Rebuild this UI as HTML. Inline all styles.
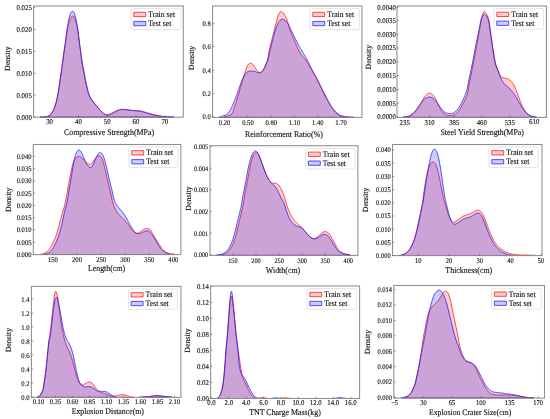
<!DOCTYPE html>
<html lang="en"><head><meta charset="utf-8"><title>Density plots</title>
<style>html,body{margin:0;padding:0;background:#fff}body{width:550px;height:419px;overflow:hidden}svg{display:block}text{font-family:"Liberation Serif",serif;fill:#111;stroke:#111;stroke-width:0.12px;text-rendering:geometricPrecision}.t{font-size:6.8px}.l{font-size:7.9px}.g{font-size:7.7px}.r{fill:rgba(255,0,0,0.2);stroke:rgba(255,10,10,0.72);stroke-width:1;stroke-linejoin:round}.b{fill:rgba(0,0,255,0.2);stroke:rgba(20,20,255,0.72);stroke-width:1;stroke-linejoin:round}</style></head><body>
<svg width="550" height="419" viewBox="0 0 550 419">
<rect width="550" height="419" fill="#fff"/>
<g>
<clipPath id="c0"><rect x="33.6" y="6.0" width="149.7" height="111.7"/></clipPath>
<g clip-path="url(#c0)">
<path class="r" d="M40.0 117.2 L40.0 117.2 L40.5 117.2 L41.0 117.2 L41.5 117.2 L42.0 117.1 L42.5 117.1 L43.0 117.1 L43.5 117.1 L44.0 117.0 L44.5 117.0 L45.0 117.0 L45.5 116.9 L46.0 116.9 L46.5 116.7 L47.0 116.6 L47.5 116.4 L48.0 116.1 L48.5 115.9 L49.0 115.6 L49.5 115.4 L50.0 115.0 L50.5 114.6 L51.0 114.0 L51.5 113.3 L52.0 112.6 L52.5 111.9 L53.0 111.1 L53.5 110.1 L54.0 108.9 L54.5 107.5 L55.0 106.1 L55.5 104.6 L56.0 102.8 L56.5 100.8 L57.0 98.6 L57.5 96.2 L58.0 93.6 L58.5 90.7 L59.0 87.6 L59.5 84.2 L60.0 80.6 L60.5 77.1 L61.0 73.7 L61.5 70.2 L62.0 66.6 L62.5 62.9 L63.0 59.3 L63.5 55.6 L64.0 51.9 L64.5 48.4 L65.0 45.1 L65.5 41.8 L66.0 38.4 L66.5 34.5 L67.0 31.1 L67.5 28.5 L68.0 26.4 L68.5 24.5 L69.0 22.8 L69.5 21.2 L70.0 19.7 L70.5 18.4 L71.0 17.3 L71.5 16.6 L72.0 16.2 L72.5 16.0 L73.0 16.1 L73.5 16.5 L74.0 17.2 L74.5 18.2 L75.0 19.4 L75.5 20.8 L76.0 22.5 L76.5 24.3 L77.0 26.4 L77.5 28.9 L78.0 31.7 L78.5 35.2 L79.0 39.0 L79.5 42.8 L80.0 46.7 L80.5 50.6 L81.0 54.4 L81.5 58.0 L82.0 61.2 L82.5 64.1 L83.0 66.7 L83.5 69.3 L84.0 71.9 L84.5 74.4 L85.0 77.1 L85.5 79.7 L86.0 82.2 L86.5 84.4 L87.0 86.6 L87.5 88.6 L88.0 90.6 L88.5 92.4 L89.0 93.9 L89.5 95.2 L90.0 96.4 L90.5 97.4 L91.0 98.4 L91.5 99.2 L92.0 100.1 L92.5 100.8 L93.0 101.5 L93.5 102.1 L94.0 102.7 L94.5 103.4 L95.0 104.0 L95.5 104.6 L96.0 105.3 L96.5 105.9 L97.0 106.5 L97.5 107.1 L98.0 107.7 L98.5 108.3 L99.0 108.9 L99.5 109.4 L100.0 110.0 L100.5 110.5 L101.0 111.1 L101.5 111.6 L102.0 112.1 L102.5 112.6 L103.0 113.0 L103.5 113.4 L104.0 113.8 L104.5 114.1 L105.0 114.4 L105.5 114.6 L106.0 114.7 L106.5 114.8 L107.0 114.8 L107.5 114.8 L108.0 114.7 L108.5 114.6 L109.0 114.4 L109.5 114.2 L110.0 114.0 L110.5 113.8 L111.0 113.5 L111.5 113.3 L112.0 113.0 L112.5 112.7 L113.0 112.4 L113.5 112.2 L114.0 111.9 L114.5 111.6 L115.0 111.4 L115.5 111.2 L116.0 110.9 L116.5 110.7 L117.0 110.5 L117.5 110.3 L118.0 110.1 L118.5 109.9 L119.0 109.8 L119.5 109.7 L120.0 109.6 L120.5 109.5 L121.0 109.5 L121.5 109.4 L122.0 109.4 L122.5 109.4 L123.0 109.4 L123.5 109.4 L124.0 109.5 L124.5 109.6 L125.0 109.6 L125.5 109.7 L126.0 109.7 L126.5 109.8 L127.0 109.9 L127.5 109.9 L128.0 110.0 L128.5 110.1 L129.0 110.1 L129.5 110.2 L130.0 110.2 L130.5 110.3 L131.0 110.3 L131.5 110.4 L132.0 110.4 L132.5 110.5 L133.0 110.5 L133.5 110.6 L134.0 110.6 L134.5 110.6 L135.0 110.7 L135.5 110.7 L136.0 110.7 L136.5 110.7 L137.0 110.7 L137.5 110.7 L138.0 110.7 L138.5 110.7 L139.0 110.7 L139.5 110.8 L140.0 110.8 L140.5 110.9 L141.0 110.9 L141.5 111.0 L142.0 111.2 L142.5 111.3 L143.0 111.4 L143.5 111.6 L144.0 111.7 L144.5 111.9 L145.0 112.0 L145.5 112.1 L146.0 112.3 L146.5 112.5 L147.0 112.6 L147.5 112.8 L148.0 113.0 L148.5 113.1 L149.0 113.3 L149.5 113.5 L150.0 113.6 L150.5 113.7 L151.0 113.9 L151.5 114.0 L152.0 114.2 L152.5 114.3 L153.0 114.4 L153.5 114.6 L154.0 114.7 L154.5 114.8 L155.0 115.0 L155.5 115.1 L156.0 115.2 L156.5 115.3 L157.0 115.4 L157.5 115.5 L158.0 115.6 L158.5 115.7 L159.0 115.8 L159.5 115.9 L160.0 116.0 L160.5 116.1 L161.0 116.2 L161.5 116.3 L162.0 116.4 L162.5 116.4 L163.0 116.5 L163.5 116.6 L164.0 116.6 L164.5 116.6 L165.0 116.7 L165.5 116.7 L166.0 116.8 L166.5 116.8 L167.0 116.8 L167.5 116.9 L168.0 116.9 L168.5 116.9 L169.0 116.9 L169.5 117.0 L170.0 117.0 L170.5 117.0 L171.0 117.1 L171.5 117.1 L172.0 117.1 L172.5 117.1 L173.0 117.2 L173.5 117.2 L174.0 117.2 L174.0 117.2 Z"/>
<path class="b" d="M40.0 117.2 L40.0 117.2 L40.5 117.2 L41.0 117.2 L41.5 117.2 L42.0 117.1 L42.5 117.1 L43.0 117.1 L43.5 117.1 L44.0 117.0 L44.5 117.0 L45.0 117.0 L45.5 116.9 L46.0 116.9 L46.5 116.7 L47.0 116.6 L47.5 116.4 L48.0 116.1 L48.5 115.9 L49.0 115.6 L49.5 115.4 L50.0 115.0 L50.5 114.6 L51.0 114.0 L51.5 113.3 L52.0 112.6 L52.5 111.9 L53.0 111.1 L53.5 110.1 L54.0 108.9 L54.5 107.5 L55.0 106.1 L55.5 104.6 L56.0 102.8 L56.5 100.8 L57.0 98.6 L57.5 96.2 L58.0 93.6 L58.5 90.7 L59.0 87.6 L59.5 84.2 L60.0 80.6 L60.5 77.1 L61.0 73.7 L61.5 70.2 L62.0 66.6 L62.5 62.9 L63.0 59.3 L63.5 55.6 L64.0 51.9 L64.5 48.4 L65.0 45.0 L65.5 41.6 L66.0 38.0 L66.5 33.8 L67.0 29.9 L67.5 26.6 L68.0 23.6 L68.5 21.0 L69.0 18.5 L69.5 16.3 L70.0 14.7 L70.5 13.6 L71.0 12.6 L71.5 11.9 L72.0 11.5 L72.5 11.2 L73.0 11.4 L73.5 11.8 L74.0 12.6 L74.5 13.9 L75.0 15.4 L75.5 17.1 L76.0 19.2 L76.5 21.5 L77.0 24.1 L77.5 27.2 L78.0 30.7 L78.5 35.1 L79.0 39.5 L79.5 43.5 L80.0 47.4 L80.5 51.4 L81.0 55.5 L81.5 59.3 L82.0 62.5 L82.5 65.4 L83.0 68.1 L83.5 70.7 L84.0 73.4 L84.5 76.2 L85.0 79.0 L85.5 81.6 L86.0 84.0 L86.5 86.2 L87.0 88.3 L87.5 90.3 L88.0 92.1 L88.5 93.7 L89.0 95.0 L89.5 96.1 L90.0 97.1 L90.5 98.1 L91.0 99.0 L91.5 99.8 L92.0 100.5 L92.5 101.2 L93.0 101.8 L93.5 102.4 L94.0 103.0 L94.5 103.6 L95.0 104.2 L95.5 104.8 L96.0 105.3 L96.5 105.9 L97.0 106.5 L97.5 107.1 L98.0 107.7 L98.5 108.3 L99.0 108.9 L99.5 109.4 L100.0 110.0 L100.5 110.5 L101.0 111.1 L101.5 111.6 L102.0 112.1 L102.5 112.6 L103.0 113.0 L103.5 113.4 L104.0 113.9 L104.5 114.2 L105.0 114.6 L105.5 114.8 L106.0 115.0 L106.5 115.1 L107.0 115.2 L107.5 115.2 L108.0 115.1 L108.5 115.1 L109.0 114.9 L109.5 114.8 L110.0 114.6 L110.5 114.4 L111.0 114.2 L111.5 113.9 L112.0 113.7 L112.5 113.4 L113.0 113.1 L113.5 112.8 L114.0 112.5 L114.5 112.3 L115.0 112.0 L115.5 111.8 L116.0 111.5 L116.5 111.3 L117.0 111.0 L117.5 110.8 L118.0 110.6 L118.5 110.4 L119.0 110.2 L119.5 110.1 L120.0 109.9 L120.5 109.8 L121.0 109.6 L121.5 109.5 L122.0 109.5 L122.5 109.4 L123.0 109.4 L123.5 109.4 L124.0 109.4 L124.5 109.5 L125.0 109.5 L125.5 109.5 L126.0 109.6 L126.5 109.6 L127.0 109.7 L127.5 109.7 L128.0 109.8 L128.5 109.9 L129.0 109.9 L129.5 110.0 L130.0 110.1 L130.5 110.1 L131.0 110.2 L131.5 110.3 L132.0 110.3 L132.5 110.4 L133.0 110.5 L133.5 110.5 L134.0 110.6 L134.5 110.7 L135.0 110.7 L135.5 110.8 L136.0 110.8 L136.5 110.8 L137.0 110.9 L137.5 110.9 L138.0 111.0 L138.5 111.0 L139.0 111.1 L139.5 111.1 L140.0 111.2 L140.5 111.3 L141.0 111.4 L141.5 111.5 L142.0 111.7 L142.5 111.8 L143.0 112.0 L143.5 112.1 L144.0 112.3 L144.5 112.5 L145.0 112.6 L145.5 112.7 L146.0 112.9 L146.5 113.0 L147.0 113.2 L147.5 113.3 L148.0 113.5 L148.5 113.6 L149.0 113.7 L149.5 113.9 L150.0 114.0 L150.5 114.1 L151.0 114.3 L151.5 114.4 L152.0 114.5 L152.5 114.6 L153.0 114.8 L153.5 114.9 L154.0 115.0 L154.5 115.1 L155.0 115.2 L155.5 115.3 L156.0 115.4 L156.5 115.5 L157.0 115.6 L157.5 115.7 L158.0 115.8 L158.5 115.9 L159.0 115.9 L159.5 116.0 L160.0 116.1 L160.5 116.2 L161.0 116.3 L161.5 116.3 L162.0 116.4 L162.5 116.4 L163.0 116.5 L163.5 116.6 L164.0 116.6 L164.5 116.6 L165.0 116.7 L165.5 116.7 L166.0 116.8 L166.5 116.8 L167.0 116.8 L167.5 116.9 L168.0 116.9 L168.5 116.9 L169.0 116.9 L169.5 117.0 L170.0 117.0 L170.5 117.0 L171.0 117.1 L171.5 117.1 L172.0 117.1 L172.5 117.1 L173.0 117.2 L173.5 117.2 L174.0 117.2 L174.0 117.2 Z"/>
</g>
<rect x="33.6" y="6.0" width="149.7" height="111.2" fill="none" stroke="#8e8e8e" stroke-width="1.05"/>
<path d="M49.6 117.2 v-1.8 M78.4 117.2 v-1.8 M107.2 117.2 v-1.8 M136.0 117.2 v-1.8 M164.8 117.2 v-1.8 M33.6 117.2 h1.8 M33.6 95.2 h1.8 M33.6 73.3 h1.8 M33.6 51.4 h1.8 M33.6 29.4 h1.8 M33.6 7.6 h1.8" stroke="#555" stroke-width="0.6" fill="none"/>
<text class="t" transform="translate(49.6 123.7) scale(1 1.09)" text-anchor="middle">30</text>
<text class="t" transform="translate(78.4 123.7) scale(1 1.09)" text-anchor="middle">40</text>
<text class="t" transform="translate(107.2 123.7) scale(1 1.09)" text-anchor="middle">50</text>
<text class="t" transform="translate(136.0 123.7) scale(1 1.09)" text-anchor="middle">60</text>
<text class="t" transform="translate(164.8 123.7) scale(1 1.09)" text-anchor="middle">70</text>
<text class="t" transform="translate(31.8 119.6) scale(1 1.09)" text-anchor="end">0.000</text>
<text class="t" transform="translate(31.8 97.6) scale(1 1.09)" text-anchor="end">0.005</text>
<text class="t" transform="translate(31.8 75.7) scale(1 1.09)" text-anchor="end">0.010</text>
<text class="t" transform="translate(31.8 53.8) scale(1 1.09)" text-anchor="end">0.015</text>
<text class="t" transform="translate(31.8 31.8) scale(1 1.09)" text-anchor="end">0.020</text>
<text class="t" transform="translate(31.8 10.0) scale(1 1.09)" text-anchor="end">0.025</text>
<text class="l" transform="translate(109.0 134.6) scale(1 1.09)" text-anchor="middle">Compressive Strength(MPa)</text>
<text class="l" transform="translate(10.4 58.7) rotate(-90)" text-anchor="middle">Density</text>
<rect x="131.0" y="8.4" width="50.0" height="21.2" rx="1.5" fill="rgba(255,255,255,0.8)" stroke="#d9d9d9" stroke-width="0.7"/>
<rect class="r" x="133.8" y="12.3" width="11.9" height="4.3"/>
<text class="g" transform="translate(148.2 16.8) scale(1 1.09)">Train set</text>
<rect class="b" x="133.8" y="21.4" width="11.9" height="4.3"/>
<text class="g" transform="translate(148.2 26.0) scale(1 1.09)">Test set</text>
</g>
<g>
<clipPath id="c1"><rect x="212.6" y="6.0" width="149.3" height="111.9"/></clipPath>
<g clip-path="url(#c1)">
<path class="r" d="M224.0 117.4 L224.0 117.0 L224.5 116.9 L225.0 116.8 L225.5 116.7 L226.0 116.6 L226.5 116.4 L227.0 116.3 L227.5 116.1 L228.0 115.9 L228.5 115.7 L229.0 115.5 L229.5 115.3 L230.0 115.1 L230.5 114.9 L231.0 114.6 L231.5 114.2 L232.0 113.8 L232.5 112.9 L233.0 111.6 L233.5 110.1 L234.0 108.6 L234.5 107.2 L235.0 105.7 L235.5 104.3 L236.0 102.8 L236.5 101.3 L237.0 99.7 L237.5 98.0 L238.0 96.2 L238.5 94.5 L239.0 92.7 L239.5 90.9 L240.0 89.2 L240.5 87.4 L241.0 85.7 L241.5 84.0 L242.0 82.2 L242.5 80.5 L243.0 78.8 L243.5 77.1 L244.0 75.5 L244.5 73.9 L245.0 72.3 L245.5 70.7 L246.0 69.2 L246.5 67.9 L247.0 66.8 L247.5 65.8 L248.0 64.9 L248.5 64.3 L249.0 63.9 L249.5 63.5 L250.0 63.3 L250.5 63.2 L251.0 63.3 L251.5 63.5 L252.0 63.8 L252.5 64.2 L253.0 64.7 L253.5 65.3 L254.0 66.0 L254.5 66.7 L255.0 67.5 L255.5 68.3 L256.0 69.0 L256.5 69.7 L257.0 70.3 L257.5 70.9 L258.0 71.4 L258.5 71.8 L259.0 72.2 L259.5 72.4 L260.0 72.5 L260.5 72.3 L261.0 72.0 L261.5 71.7 L262.0 71.3 L262.5 70.7 L263.0 70.0 L263.5 69.3 L264.0 68.4 L264.5 67.4 L265.0 66.2 L265.5 64.9 L266.0 63.7 L266.5 62.6 L267.0 61.4 L267.5 60.0 L268.0 57.7 L268.5 54.6 L269.0 51.6 L269.5 49.1 L270.0 46.9 L270.5 44.9 L271.0 42.9 L271.5 40.9 L272.0 39.0 L272.5 37.1 L273.0 35.2 L273.5 33.2 L274.0 31.2 L274.5 29.1 L275.0 27.1 L275.5 25.2 L276.0 23.2 L276.5 21.4 L277.0 19.5 L277.5 17.6 L278.0 16.0 L278.5 14.7 L279.0 13.8 L279.5 12.9 L280.0 12.2 L280.5 11.7 L281.0 11.4 L281.5 11.4 L282.0 11.7 L282.5 12.1 L283.0 12.7 L283.5 13.3 L284.0 14.0 L284.5 14.7 L285.0 15.6 L285.5 16.6 L286.0 17.6 L286.5 18.8 L287.0 20.0 L287.5 21.4 L288.0 23.1 L288.5 24.9 L289.0 26.7 L289.5 28.5 L290.0 30.0 L290.5 31.4 L291.0 32.6 L291.5 33.9 L292.0 35.1 L292.5 36.3 L293.0 37.5 L293.5 38.6 L294.0 39.7 L294.5 40.9 L295.0 42.0 L295.5 43.2 L296.0 44.3 L296.5 45.5 L297.0 46.7 L297.5 47.9 L298.0 49.0 L298.5 50.1 L299.0 51.2 L299.5 52.1 L300.0 53.0 L300.5 53.8 L301.0 54.5 L301.5 55.1 L302.0 55.7 L302.5 56.3 L303.0 56.8 L303.5 57.4 L304.0 57.9 L304.5 58.4 L305.0 59.0 L305.5 59.6 L306.0 60.3 L306.5 61.0 L307.0 61.8 L307.5 62.6 L308.0 63.5 L308.5 64.3 L309.0 65.2 L309.5 66.1 L310.0 67.0 L310.5 68.0 L311.0 68.9 L311.5 69.8 L312.0 70.7 L312.5 71.6 L313.0 72.5 L313.5 73.4 L314.0 74.2 L314.5 75.1 L315.0 75.9 L315.5 76.8 L316.0 77.7 L316.5 78.7 L317.0 79.6 L317.5 80.6 L318.0 81.6 L318.5 82.6 L319.0 83.6 L319.5 84.6 L320.0 85.6 L320.5 86.6 L321.0 87.6 L321.5 88.6 L322.0 89.6 L322.5 90.7 L323.0 91.7 L323.5 92.7 L324.0 93.8 L324.5 94.8 L325.0 95.8 L325.5 96.7 L326.0 97.7 L326.5 98.6 L327.0 99.6 L327.5 100.5 L328.0 101.4 L328.5 102.3 L329.0 103.1 L329.5 104.0 L330.0 104.8 L330.5 105.6 L331.0 106.4 L331.5 107.1 L332.0 107.8 L332.5 108.5 L333.0 109.2 L333.5 109.9 L334.0 110.6 L334.5 111.2 L335.0 111.8 L335.5 112.3 L336.0 112.7 L336.5 113.1 L337.0 113.5 L337.5 113.9 L338.0 114.3 L338.5 114.6 L339.0 114.9 L339.5 115.2 L340.0 115.5 L340.5 115.7 L341.0 115.9 L341.5 116.0 L342.0 116.2 L342.5 116.3 L343.0 116.4 L343.5 116.5 L344.0 116.6 L344.5 116.7 L345.0 116.8 L345.5 116.9 L346.0 117.0 L346.5 117.0 L347.0 117.0 L347.5 117.1 L348.0 117.1 L348.5 117.1 L349.0 117.2 L349.5 117.2 L350.0 117.2 L350.5 117.3 L351.0 117.3 L351.5 117.3 L352.0 117.3 L352.5 117.3 L353.0 117.3 L353.0 117.4 Z"/>
<path class="b" d="M219.0 117.4 L219.0 117.0 L219.5 116.9 L220.0 116.8 L220.5 116.7 L221.0 116.6 L221.5 116.4 L222.0 116.3 L222.5 116.2 L223.0 116.0 L223.5 115.8 L224.0 115.6 L224.5 115.4 L225.0 115.2 L225.5 115.0 L226.0 114.7 L226.5 114.5 L227.0 114.1 L227.5 113.8 L228.0 113.3 L228.5 112.7 L229.0 112.0 L229.5 111.2 L230.0 110.4 L230.5 109.6 L231.0 108.7 L231.5 107.7 L232.0 106.5 L232.5 105.4 L233.0 104.2 L233.5 103.0 L234.0 101.8 L234.5 100.6 L235.0 99.4 L235.5 98.2 L236.0 96.9 L236.5 95.6 L237.0 94.2 L237.5 92.7 L238.0 91.3 L238.5 89.8 L239.0 88.4 L239.5 87.0 L240.0 85.6 L240.5 84.2 L241.0 82.9 L241.5 81.7 L242.0 80.4 L242.5 79.2 L243.0 78.1 L243.5 77.0 L244.0 76.1 L244.5 75.3 L245.0 74.5 L245.5 73.8 L246.0 73.2 L246.5 72.7 L247.0 72.3 L247.5 71.9 L248.0 71.6 L248.5 71.4 L249.0 71.2 L249.5 71.1 L250.0 71.1 L250.5 71.0 L251.0 71.0 L251.5 71.0 L252.0 71.0 L252.5 71.1 L253.0 71.1 L253.5 71.2 L254.0 71.2 L254.5 71.3 L255.0 71.5 L255.5 71.7 L256.0 71.9 L256.5 72.1 L257.0 72.2 L257.5 72.4 L258.0 72.5 L258.5 72.7 L259.0 72.8 L259.5 72.9 L260.0 72.9 L260.5 72.7 L261.0 72.4 L261.5 72.0 L262.0 71.6 L262.5 71.1 L263.0 70.5 L263.5 69.7 L264.0 68.8 L264.5 67.9 L265.0 66.9 L265.5 65.7 L266.0 64.4 L266.5 63.2 L267.0 62.1 L267.5 60.9 L268.0 59.3 L268.5 57.3 L269.0 55.1 L269.5 52.8 L270.0 50.7 L270.5 48.6 L271.0 46.5 L271.5 44.4 L272.0 42.4 L272.5 40.4 L273.0 38.5 L273.5 36.6 L274.0 34.8 L274.5 33.1 L275.0 31.3 L275.5 29.7 L276.0 28.1 L276.5 26.7 L277.0 25.4 L277.5 24.4 L278.0 23.3 L278.5 22.4 L279.0 21.5 L279.5 20.9 L280.0 20.4 L280.5 20.0 L281.0 19.7 L281.5 19.4 L282.0 19.2 L282.5 19.2 L283.0 19.3 L283.5 19.5 L284.0 19.7 L284.5 20.1 L285.0 20.4 L285.5 20.8 L286.0 21.3 L286.5 21.8 L287.0 22.5 L287.5 23.2 L288.0 24.0 L288.5 24.8 L289.0 25.8 L289.5 26.8 L290.0 27.8 L290.5 28.9 L291.0 29.9 L291.5 31.0 L292.0 32.0 L292.5 33.0 L293.0 34.0 L293.5 35.0 L294.0 36.1 L294.5 37.1 L295.0 38.1 L295.5 39.1 L296.0 40.1 L296.5 41.0 L297.0 42.0 L297.5 42.9 L298.0 43.9 L298.5 44.8 L299.0 45.7 L299.5 46.6 L300.0 47.5 L300.5 48.4 L301.0 49.2 L301.5 50.1 L302.0 51.0 L302.5 51.9 L303.0 52.7 L303.5 53.6 L304.0 54.4 L304.5 55.3 L305.0 56.1 L305.5 57.0 L306.0 57.9 L306.5 58.7 L307.0 59.6 L307.5 60.5 L308.0 61.5 L308.5 62.4 L309.0 63.4 L309.5 64.4 L310.0 65.4 L310.5 66.5 L311.0 67.5 L311.5 68.5 L312.0 69.5 L312.5 70.5 L313.0 71.5 L313.5 72.5 L314.0 73.4 L314.5 74.3 L315.0 75.2 L315.5 76.1 L316.0 77.0 L316.5 77.9 L317.0 78.9 L317.5 79.9 L318.0 80.8 L318.5 81.8 L319.0 82.8 L319.5 83.8 L320.0 84.8 L320.5 85.8 L321.0 86.8 L321.5 87.8 L322.0 88.8 L322.5 89.8 L323.0 90.9 L323.5 91.9 L324.0 92.9 L324.5 94.0 L325.0 95.0 L325.5 96.0 L326.0 96.9 L326.5 97.9 L327.0 98.8 L327.5 99.7 L328.0 100.7 L328.5 101.6 L329.0 102.4 L329.5 103.3 L330.0 104.2 L330.5 105.0 L331.0 105.8 L331.5 106.5 L332.0 107.2 L332.5 108.0 L333.0 108.7 L333.5 109.4 L334.0 110.1 L334.5 110.7 L335.0 111.3 L335.5 111.9 L336.0 112.4 L336.5 112.8 L337.0 113.2 L337.5 113.6 L338.0 114.0 L338.5 114.3 L339.0 114.7 L339.5 115.0 L340.0 115.3 L340.5 115.5 L341.0 115.7 L341.5 115.9 L342.0 116.1 L342.5 116.2 L343.0 116.3 L343.5 116.4 L344.0 116.5 L344.5 116.6 L345.0 116.7 L345.5 116.8 L346.0 116.9 L346.5 117.0 L347.0 117.0 L347.5 117.0 L348.0 117.1 L348.5 117.1 L349.0 117.1 L349.5 117.2 L350.0 117.2 L350.5 117.2 L351.0 117.3 L351.5 117.3 L352.0 117.3 L352.5 117.3 L353.0 117.3 L353.5 117.3 L354.0 117.3 L354.0 117.4 Z"/>
</g>
<rect x="212.6" y="6.0" width="149.3" height="111.4" fill="none" stroke="#8e8e8e" stroke-width="1.05"/>
<path d="M224.6 117.4 v-1.8 M247.9 117.4 v-1.8 M271.2 117.4 v-1.8 M294.5 117.4 v-1.8 M317.8 117.4 v-1.8 M341.1 117.4 v-1.8 M212.6 116.8 h1.8 M212.6 93.5 h1.8 M212.6 70.2 h1.8 M212.6 46.8 h1.8 M212.6 23.6 h1.8" stroke="#555" stroke-width="0.6" fill="none"/>
<text class="t" style="font-size:6.6px" transform="translate(224.6 125.4) scale(1 1.09)" text-anchor="middle">0.20</text>
<text class="t" style="font-size:6.6px" transform="translate(247.9 125.4) scale(1 1.09)" text-anchor="middle">0.50</text>
<text class="t" style="font-size:6.6px" transform="translate(271.2 125.4) scale(1 1.09)" text-anchor="middle">0.80</text>
<text class="t" style="font-size:6.6px" transform="translate(294.5 125.4) scale(1 1.09)" text-anchor="middle">1.10</text>
<text class="t" style="font-size:6.6px" transform="translate(317.8 125.4) scale(1 1.09)" text-anchor="middle">1.40</text>
<text class="t" style="font-size:6.6px" transform="translate(341.1 125.4) scale(1 1.09)" text-anchor="middle">1.70</text>
<text class="t" style="font-size:6.6px" transform="translate(210.8 119.2) scale(1 1.09)" text-anchor="end">0.0</text>
<text class="t" style="font-size:6.6px" transform="translate(210.8 95.9) scale(1 1.09)" text-anchor="end">0.2</text>
<text class="t" style="font-size:6.6px" transform="translate(210.8 72.6) scale(1 1.09)" text-anchor="end">0.4</text>
<text class="t" style="font-size:6.6px" transform="translate(210.8 49.2) scale(1 1.09)" text-anchor="end">0.6</text>
<text class="t" style="font-size:6.6px" transform="translate(210.8 26.0) scale(1 1.09)" text-anchor="end">0.8</text>
<text class="l" transform="translate(284.0 136.8) scale(1 1.09)" text-anchor="middle">Reinforcement Ratio(%)</text>
<text class="l" transform="translate(193.5 58.0) rotate(-90)" text-anchor="middle">Density</text>
<rect x="310.0" y="8.4" width="49.4" height="21.2" rx="1.5" fill="rgba(255,255,255,0.8)" stroke="#d9d9d9" stroke-width="0.7"/>
<rect class="r" x="312.8" y="12.3" width="11.9" height="4.3"/>
<text class="g" transform="translate(327.2 16.8) scale(1 1.09)">Train set</text>
<rect class="b" x="312.8" y="21.4" width="11.9" height="4.3"/>
<text class="g" transform="translate(327.2 26.0) scale(1 1.09)">Test set</text>
</g>
<g>
<clipPath id="c2"><rect x="397.0" y="6.0" width="149.4" height="111.9"/></clipPath>
<g clip-path="url(#c2)">
<path class="r" d="M403.4 117.4 L403.4 117.2 L403.9 117.2 L404.4 117.2 L404.9 117.1 L405.4 117.1 L405.9 117.0 L406.4 116.9 L406.9 116.9 L407.4 116.8 L407.9 116.7 L408.4 116.5 L408.9 116.4 L409.4 116.3 L409.9 116.1 L410.4 115.8 L410.9 115.6 L411.4 115.3 L411.9 115.0 L412.4 114.7 L412.9 114.3 L413.4 113.9 L413.9 113.4 L414.4 112.9 L414.9 112.3 L415.4 111.7 L415.9 111.2 L416.4 110.5 L416.9 109.9 L417.4 109.2 L417.9 108.4 L418.4 107.7 L418.9 106.9 L419.4 106.1 L419.9 105.2 L420.4 104.3 L420.9 103.3 L421.4 102.4 L421.9 101.5 L422.4 100.6 L422.9 99.6 L423.4 98.7 L423.9 97.8 L424.4 97.0 L424.9 96.3 L425.4 95.7 L425.9 95.2 L426.4 94.7 L426.9 94.3 L427.4 93.9 L427.9 93.7 L428.4 93.4 L428.9 93.3 L429.4 93.1 L429.9 93.1 L430.4 93.2 L430.9 93.4 L431.4 93.7 L431.9 94.0 L432.4 94.4 L432.9 94.9 L433.4 95.5 L433.9 96.2 L434.4 96.9 L434.9 97.7 L435.4 98.6 L435.9 99.5 L436.4 100.5 L436.9 101.6 L437.4 102.6 L437.9 103.6 L438.4 104.7 L438.9 105.7 L439.4 106.8 L439.9 107.8 L440.4 108.8 L440.9 109.7 L441.4 110.5 L441.9 111.3 L442.4 112.0 L442.9 112.7 L443.4 113.2 L443.9 113.6 L444.4 114.0 L444.9 114.3 L445.4 114.6 L445.9 114.8 L446.4 115.1 L446.9 115.3 L447.4 115.4 L447.9 115.5 L448.4 115.6 L448.9 115.6 L449.4 115.6 L449.9 115.6 L450.4 115.6 L450.9 115.6 L451.4 115.5 L451.9 115.5 L452.4 115.4 L452.9 115.2 L453.4 115.1 L453.9 114.9 L454.4 114.6 L454.9 114.4 L455.4 114.1 L455.9 113.8 L456.4 113.4 L456.9 113.0 L457.4 112.5 L457.9 111.9 L458.4 111.3 L458.9 110.7 L459.4 110.0 L459.9 109.3 L460.4 108.5 L460.9 107.7 L461.4 106.8 L461.9 106.0 L462.4 105.1 L462.9 104.1 L463.4 103.1 L463.9 102.1 L464.4 101.0 L464.9 100.0 L465.4 99.0 L465.9 98.1 L466.4 96.9 L466.9 95.6 L467.4 93.8 L467.9 91.5 L468.4 88.7 L468.9 85.8 L469.4 83.0 L469.9 80.5 L470.4 78.0 L470.9 75.5 L471.4 73.0 L471.9 70.5 L472.4 68.0 L472.9 65.6 L473.4 63.1 L473.9 60.6 L474.4 58.0 L474.9 55.4 L475.4 52.7 L475.9 50.0 L476.4 47.3 L476.9 44.5 L477.4 41.8 L477.9 39.0 L478.4 36.2 L478.9 33.3 L479.4 30.6 L479.9 27.7 L480.4 24.7 L480.9 21.8 L481.4 19.3 L481.9 17.3 L482.4 15.5 L482.9 13.8 L483.4 12.6 L483.9 11.7 L484.4 11.4 L484.9 11.6 L485.4 12.1 L485.9 12.9 L486.4 13.8 L486.9 14.7 L487.4 15.7 L487.9 17.0 L488.4 18.5 L488.9 20.4 L489.4 23.2 L489.9 26.6 L490.4 30.4 L490.9 34.0 L491.4 37.5 L491.9 41.1 L492.4 44.7 L492.9 48.1 L493.4 51.2 L493.9 54.3 L494.4 57.3 L494.9 60.0 L495.4 62.4 L495.9 64.3 L496.4 66.0 L496.9 67.5 L497.4 68.9 L497.9 70.1 L498.4 71.3 L498.9 72.4 L499.4 73.6 L499.9 74.8 L500.4 75.8 L500.9 76.4 L501.4 76.8 L501.9 77.1 L502.4 77.4 L502.9 77.6 L503.4 77.8 L503.9 78.0 L504.4 78.1 L504.9 78.2 L505.4 78.3 L505.9 78.4 L506.4 78.5 L506.9 78.6 L507.4 78.7 L507.9 78.9 L508.4 79.2 L508.9 79.4 L509.4 79.7 L509.9 80.1 L510.4 80.4 L510.9 80.8 L511.4 81.4 L511.9 82.0 L512.4 82.7 L512.9 83.5 L513.4 84.4 L513.9 85.3 L514.4 86.3 L514.9 87.3 L515.4 88.4 L515.9 89.7 L516.4 91.0 L516.9 92.3 L517.4 93.6 L517.9 95.0 L518.4 96.2 L518.9 97.5 L519.4 98.8 L519.9 100.2 L520.4 101.5 L520.9 102.8 L521.4 104.1 L521.9 105.2 L522.4 106.3 L522.9 107.3 L523.4 108.2 L523.9 109.1 L524.4 109.9 L524.9 110.7 L525.4 111.3 L525.9 112.0 L526.4 112.5 L526.9 113.0 L527.4 113.5 L527.9 113.9 L528.4 114.3 L528.9 114.8 L529.4 115.1 L529.9 115.5 L530.4 115.7 L530.9 116.0 L531.4 116.1 L531.9 116.3 L532.4 116.5 L532.9 116.7 L533.4 116.8 L533.9 116.9 L534.4 117.0 L534.9 117.1 L535.4 117.2 L535.9 117.2 L536.0 117.2 L536.0 117.4 Z"/>
<path class="b" d="M402.8 117.4 L402.8 117.2 L403.3 117.2 L403.8 117.2 L404.3 117.1 L404.8 117.0 L405.3 117.0 L405.8 116.9 L406.3 116.7 L406.8 116.6 L407.3 116.5 L407.8 116.4 L408.3 116.2 L408.8 116.0 L409.3 115.8 L409.8 115.5 L410.3 115.2 L410.8 114.9 L411.3 114.5 L411.8 114.2 L412.3 113.8 L412.8 113.4 L413.3 112.9 L413.8 112.4 L414.3 111.9 L414.8 111.3 L415.3 110.8 L415.8 110.2 L416.3 109.5 L416.8 108.9 L417.3 108.2 L417.8 107.6 L418.3 106.9 L418.8 106.2 L419.3 105.5 L419.8 104.8 L420.3 104.1 L420.8 103.3 L421.3 102.7 L421.8 102.0 L422.3 101.3 L422.8 100.7 L423.3 100.1 L423.8 99.5 L424.3 99.1 L424.8 98.7 L425.3 98.4 L425.8 98.1 L426.3 97.9 L426.8 97.7 L427.3 97.5 L427.8 97.4 L428.3 97.2 L428.8 97.1 L429.3 97.0 L429.8 97.0 L430.3 97.0 L430.8 97.2 L431.3 97.4 L431.8 97.6 L432.3 97.8 L432.8 98.1 L433.3 98.5 L433.8 98.9 L434.3 99.4 L434.8 99.9 L435.3 100.4 L435.8 101.0 L436.3 101.7 L436.8 102.4 L437.3 103.1 L437.8 103.8 L438.3 104.4 L438.8 105.1 L439.3 105.8 L439.8 106.6 L440.3 107.3 L440.8 107.9 L441.3 108.6 L441.8 109.1 L442.3 109.7 L442.8 110.3 L443.3 110.8 L443.8 111.3 L444.3 111.7 L444.8 112.1 L445.3 112.4 L445.8 112.6 L446.3 112.9 L446.8 113.1 L447.3 113.3 L447.8 113.4 L448.3 113.6 L448.8 113.7 L449.3 113.7 L449.8 113.7 L450.3 113.7 L450.8 113.6 L451.3 113.5 L451.8 113.4 L452.3 113.3 L452.8 113.2 L453.3 113.0 L453.8 112.7 L454.3 112.4 L454.8 112.0 L455.3 111.6 L455.8 111.2 L456.3 110.8 L456.8 110.3 L457.3 109.7 L457.8 109.0 L458.3 108.3 L458.8 107.6 L459.3 106.9 L459.8 106.1 L460.3 105.2 L460.8 104.3 L461.3 103.3 L461.8 102.3 L462.3 101.3 L462.8 100.3 L463.3 99.2 L463.8 98.0 L464.3 96.8 L464.8 95.7 L465.3 94.5 L465.8 93.2 L466.3 91.8 L466.8 90.2 L467.3 88.2 L467.8 85.6 L468.3 82.7 L468.8 80.0 L469.3 77.7 L469.8 75.6 L470.3 73.4 L470.8 71.0 L471.3 68.6 L471.8 66.1 L472.3 63.6 L472.8 61.0 L473.3 58.4 L473.8 55.8 L474.3 53.0 L474.8 50.3 L475.3 47.6 L475.8 45.0 L476.3 42.5 L476.8 40.2 L477.3 37.8 L477.8 35.6 L478.3 33.3 L478.8 31.0 L479.3 28.5 L479.8 25.7 L480.3 23.1 L480.8 20.7 L481.3 19.0 L481.8 17.5 L482.3 16.3 L482.8 15.4 L483.3 14.9 L483.8 14.5 L484.3 14.4 L484.8 14.5 L485.3 14.9 L485.8 15.4 L486.3 15.9 L486.8 16.5 L487.3 17.3 L487.8 18.4 L488.3 19.9 L488.8 21.7 L489.3 24.6 L489.8 28.2 L490.3 31.9 L490.8 35.4 L491.3 38.9 L491.8 42.5 L492.3 46.0 L492.8 49.4 L493.3 52.5 L493.8 55.7 L494.3 58.8 L494.8 61.4 L495.3 63.6 L495.8 65.3 L496.3 66.7 L496.8 68.0 L497.3 69.2 L497.8 70.5 L498.3 71.9 L498.8 73.2 L499.3 74.6 L499.8 75.9 L500.3 77.1 L500.8 78.1 L501.3 79.1 L501.8 80.0 L502.3 80.9 L502.8 81.7 L503.3 82.4 L503.8 83.1 L504.3 83.8 L504.8 84.3 L505.3 84.8 L505.8 85.3 L506.3 85.7 L506.8 86.1 L507.3 86.5 L507.8 86.9 L508.3 87.4 L508.8 87.8 L509.3 88.3 L509.8 88.8 L510.3 89.4 L510.8 89.9 L511.3 90.5 L511.8 91.0 L512.3 91.6 L512.8 92.2 L513.3 92.9 L513.8 93.5 L514.3 94.2 L514.8 94.9 L515.3 95.7 L515.8 96.5 L516.3 97.4 L516.8 98.3 L517.3 99.2 L517.8 100.1 L518.3 101.0 L518.8 101.8 L519.3 102.7 L519.8 103.6 L520.3 104.5 L520.8 105.4 L521.3 106.2 L521.8 107.1 L522.3 107.9 L522.8 108.6 L523.3 109.3 L523.8 110.0 L524.3 110.7 L524.8 111.3 L525.3 111.9 L525.8 112.5 L526.3 112.9 L526.8 113.4 L527.3 113.8 L527.8 114.1 L528.3 114.5 L528.8 114.8 L529.3 115.2 L529.8 115.5 L530.3 115.7 L530.8 116.0 L531.3 116.1 L531.8 116.3 L532.3 116.4 L532.8 116.6 L533.3 116.7 L533.8 116.8 L534.3 116.9 L534.8 117.0 L535.3 117.1 L535.8 117.2 L536.3 117.2 L536.8 117.2 L537.0 117.2 L537.0 117.4 Z"/>
</g>
<rect x="397.0" y="6.0" width="149.4" height="111.4" fill="none" stroke="#8e8e8e" stroke-width="1.05"/>
<path d="M404.7 117.4 v-1.8 M429.6 117.4 v-1.8 M454.3 117.4 v-1.8 M481.8 117.4 v-1.8 M509.8 117.4 v-1.8 M534.2 117.4 v-1.8 M397.0 117.0 h1.8 M397.0 103.2 h1.8 M397.0 89.4 h1.8 M397.0 75.6 h1.8 M397.0 61.8 h1.8 M397.0 48.0 h1.8 M397.0 34.2 h1.8 M397.0 20.4 h1.8 M397.0 7.2 h1.8" stroke="#555" stroke-width="0.6" fill="none"/>
<text class="t" transform="translate(404.7 124.7) scale(1 1.09)" text-anchor="middle">235</text>
<text class="t" transform="translate(429.6 124.7) scale(1 1.09)" text-anchor="middle">310</text>
<text class="t" transform="translate(454.3 124.7) scale(1 1.09)" text-anchor="middle">385</text>
<text class="t" transform="translate(481.8 124.7) scale(1 1.09)" text-anchor="middle">460</text>
<text class="t" transform="translate(509.8 124.7) scale(1 1.09)" text-anchor="middle">535</text>
<text class="t" transform="translate(534.2 123.8) scale(1 1.09)" text-anchor="middle">610</text>
<text class="t" transform="translate(395.9 119.4) scale(1 1.09)" text-anchor="end">0.0000</text>
<text class="t" transform="translate(395.9 105.6) scale(1 1.09)" text-anchor="end">0.0005</text>
<text class="t" transform="translate(395.9 91.8) scale(1 1.09)" text-anchor="end">0.0010</text>
<text class="t" transform="translate(395.9 78.0) scale(1 1.09)" text-anchor="end">0.0015</text>
<text class="t" transform="translate(395.9 64.2) scale(1 1.09)" text-anchor="end">0.0020</text>
<text class="t" transform="translate(395.9 50.4) scale(1 1.09)" text-anchor="end">0.0025</text>
<text class="t" transform="translate(395.9 36.6) scale(1 1.09)" text-anchor="end">0.0030</text>
<text class="t" transform="translate(395.9 22.8) scale(1 1.09)" text-anchor="end">0.0035</text>
<text class="t" transform="translate(395.9 9.6) scale(1 1.09)" text-anchor="end">0.0040</text>
<text class="l" transform="translate(482.2 135.1) scale(1 1.09)" text-anchor="middle">Steel Yield Strength(MPa)</text>
<text class="l" transform="translate(371.3 57.2) rotate(-90)" text-anchor="middle">Density</text>
<rect x="494.0" y="8.4" width="49.6" height="20.8" rx="1.5" fill="rgba(255,255,255,0.8)" stroke="#d9d9d9" stroke-width="0.7"/>
<rect class="r" x="496.8" y="12.2" width="11.9" height="4.3"/>
<text class="g" transform="translate(511.2 16.7) scale(1 1.09)">Train set</text>
<rect class="b" x="496.8" y="21.1" width="11.9" height="4.3"/>
<text class="g" transform="translate(511.2 25.7) scale(1 1.09)">Test set</text>
</g>
<g>
<clipPath id="c3"><rect x="33.3" y="144.5" width="147.6" height="110.6"/></clipPath>
<g clip-path="url(#c3)">
<path class="r" d="M39.7 254.6 L39.7 254.4 L40.2 254.4 L40.7 254.3 L41.2 254.2 L41.7 254.1 L42.2 254.0 L42.7 253.8 L43.2 253.6 L43.7 253.5 L44.2 253.3 L44.7 253.1 L45.2 252.8 L45.7 252.5 L46.2 252.2 L46.7 251.8 L47.2 251.4 L47.7 251.0 L48.2 250.5 L48.7 250.0 L49.2 249.4 L49.7 248.7 L50.2 247.9 L50.7 247.2 L51.2 246.4 L51.7 245.5 L52.2 244.6 L52.7 243.5 L53.2 242.4 L53.7 241.3 L54.2 240.2 L54.7 239.0 L55.2 237.8 L55.7 236.5 L56.2 235.2 L56.7 233.7 L57.2 232.0 L57.7 230.2 L58.2 228.4 L58.7 226.5 L59.2 224.7 L59.7 222.9 L60.2 221.0 L60.7 219.2 L61.2 217.4 L61.7 215.6 L62.2 213.9 L62.7 212.1 L63.2 210.4 L63.7 208.8 L64.2 207.2 L64.7 205.4 L65.2 203.2 L65.7 200.5 L66.2 197.8 L66.7 195.0 L67.2 192.2 L67.7 189.5 L68.2 186.7 L68.7 184.0 L69.2 181.3 L69.7 178.7 L70.2 176.0 L70.7 173.4 L71.2 171.0 L71.7 168.7 L72.2 166.4 L72.7 164.4 L73.2 162.8 L73.7 161.5 L74.2 160.4 L74.7 159.4 L75.2 158.8 L75.7 158.2 L76.2 157.7 L76.7 157.2 L77.2 156.8 L77.7 156.6 L78.2 156.5 L78.7 156.4 L79.2 156.4 L79.7 156.5 L80.2 156.7 L80.7 157.0 L81.2 157.4 L81.7 157.8 L82.2 158.2 L82.7 158.7 L83.2 159.1 L83.7 159.7 L84.2 160.2 L84.7 160.7 L85.2 161.2 L85.7 161.8 L86.2 162.3 L86.7 162.8 L87.2 163.3 L87.7 163.6 L88.2 163.9 L88.7 164.1 L89.2 164.3 L89.7 164.4 L90.2 164.4 L90.7 164.2 L91.2 163.9 L91.7 163.6 L92.2 163.1 L92.7 162.4 L93.2 161.6 L93.7 160.8 L94.2 159.9 L94.7 159.2 L95.2 158.5 L95.7 157.8 L96.2 157.1 L96.7 156.6 L97.2 156.2 L97.7 155.9 L98.2 155.7 L98.7 155.7 L99.2 155.7 L99.7 155.9 L100.2 156.2 L100.7 156.7 L101.2 157.2 L101.7 157.9 L102.2 158.9 L102.7 160.3 L103.2 161.8 L103.7 163.5 L104.2 165.4 L104.7 167.5 L105.2 169.6 L105.7 171.8 L106.2 174.0 L106.7 176.3 L107.2 178.6 L107.7 180.8 L108.2 182.9 L108.7 184.9 L109.2 186.9 L109.7 189.0 L110.2 191.1 L110.7 193.3 L111.2 195.5 L111.7 198.0 L112.2 200.6 L112.7 202.7 L113.2 204.3 L113.7 205.7 L114.2 206.9 L114.7 208.0 L115.2 209.0 L115.7 209.9 L116.2 210.8 L116.7 211.7 L117.2 212.5 L117.7 213.3 L118.2 213.9 L118.7 214.5 L119.2 215.1 L119.7 215.6 L120.2 216.1 L120.7 216.5 L121.2 217.0 L121.7 217.5 L122.2 218.0 L122.7 218.5 L123.2 219.0 L123.7 219.5 L124.2 220.0 L124.7 220.5 L125.2 221.0 L125.7 221.6 L126.2 222.1 L126.7 222.7 L127.2 223.3 L127.7 224.0 L128.2 224.6 L128.7 225.3 L129.2 226.0 L129.7 226.7 L130.2 227.5 L130.7 228.2 L131.2 228.9 L131.7 229.5 L132.2 230.1 L132.7 230.7 L133.2 231.2 L133.7 231.7 L134.2 232.1 L134.7 232.5 L135.2 232.8 L135.7 233.0 L136.2 233.2 L136.7 233.3 L137.2 233.3 L137.7 233.2 L138.2 233.0 L138.7 232.7 L139.2 232.4 L139.7 232.1 L140.2 231.8 L140.7 231.5 L141.2 231.2 L141.7 230.8 L142.2 230.4 L142.7 230.1 L143.2 229.8 L143.7 229.5 L144.2 229.3 L144.7 229.1 L145.2 228.9 L145.7 228.8 L146.2 228.6 L146.7 228.5 L147.2 228.5 L147.7 228.5 L148.2 228.6 L148.7 228.7 L149.2 228.9 L149.7 229.2 L150.2 229.7 L150.7 230.4 L151.2 231.1 L151.7 232.0 L152.2 232.9 L152.7 233.7 L153.2 234.5 L153.7 235.3 L154.2 236.2 L154.7 237.0 L155.2 237.9 L155.7 238.8 L156.2 239.6 L156.7 240.4 L157.2 241.2 L157.7 242.0 L158.2 242.8 L158.7 243.6 L159.2 244.4 L159.7 245.1 L160.2 245.9 L160.7 246.7 L161.2 247.5 L161.7 248.2 L162.2 248.9 L162.7 249.4 L163.2 250.0 L163.7 250.5 L164.2 250.9 L164.7 251.3 L165.2 251.7 L165.7 252.0 L166.2 252.3 L166.7 252.6 L167.2 252.8 L167.7 253.0 L168.2 253.2 L168.7 253.4 L169.2 253.6 L169.7 253.7 L170.2 253.8 L170.7 253.9 L171.2 254.0 L171.7 254.1 L172.2 254.2 L172.7 254.3 L173.2 254.4 L173.7 254.4 L174.0 254.4 L174.0 254.6 Z"/>
<path class="b" d="M42.9 254.6 L42.9 254.4 L43.4 254.4 L43.9 254.3 L44.4 254.2 L44.9 254.1 L45.4 253.9 L45.9 253.8 L46.4 253.6 L46.9 253.5 L47.4 253.3 L47.9 253.1 L48.4 252.9 L48.9 252.6 L49.4 252.3 L49.9 251.9 L50.4 251.5 L50.9 251.1 L51.4 250.6 L51.9 250.0 L52.4 249.3 L52.9 248.5 L53.4 247.6 L53.9 246.7 L54.4 245.8 L54.9 244.9 L55.4 243.9 L55.9 242.8 L56.4 241.7 L56.9 240.5 L57.4 239.2 L57.9 237.9 L58.4 236.5 L58.9 235.0 L59.4 233.4 L59.9 231.7 L60.4 229.9 L60.9 228.1 L61.4 226.2 L61.9 224.3 L62.4 222.2 L62.9 219.9 L63.4 217.4 L63.9 214.9 L64.4 212.7 L64.9 210.6 L65.4 208.7 L65.9 206.7 L66.4 204.6 L66.9 202.4 L67.4 200.0 L67.9 197.2 L68.4 194.1 L68.9 190.9 L69.4 187.9 L69.9 185.0 L70.4 182.1 L70.9 179.2 L71.4 176.3 L71.9 173.2 L72.4 170.0 L72.9 167.0 L73.4 164.2 L73.9 161.5 L74.4 159.1 L74.9 157.0 L75.4 155.4 L75.9 153.9 L76.4 152.6 L76.9 151.7 L77.4 151.1 L77.9 150.5 L78.4 150.1 L78.9 149.9 L79.4 150.0 L79.9 150.3 L80.4 150.8 L80.9 151.4 L81.4 152.2 L81.9 153.2 L82.4 154.4 L82.9 155.6 L83.4 156.8 L83.9 157.9 L84.4 159.1 L84.9 160.3 L85.4 161.4 L85.9 162.4 L86.4 163.3 L86.9 164.2 L87.4 165.0 L87.9 165.7 L88.4 166.3 L88.9 166.8 L89.4 167.2 L89.9 167.4 L90.4 167.6 L90.9 167.5 L91.4 167.3 L91.9 166.8 L92.4 166.1 L92.9 165.3 L93.4 164.3 L93.9 163.1 L94.4 161.8 L94.9 160.6 L95.4 159.5 L95.9 158.4 L96.4 157.3 L96.9 156.2 L97.4 155.3 L97.9 154.5 L98.4 153.8 L98.9 153.2 L99.4 152.7 L99.9 152.4 L100.4 152.4 L100.9 152.7 L101.4 153.1 L101.9 153.6 L102.4 154.3 L102.9 155.2 L103.4 156.3 L103.9 157.6 L104.4 159.1 L104.9 160.8 L105.4 162.6 L105.9 164.6 L106.4 166.7 L106.9 168.7 L107.4 170.9 L107.9 173.2 L108.4 175.5 L108.9 177.8 L109.4 179.9 L109.9 181.9 L110.4 183.9 L110.9 185.8 L111.4 187.7 L111.9 189.8 L112.4 192.2 L112.9 194.7 L113.4 196.8 L113.9 198.9 L114.4 200.6 L114.9 201.8 L115.4 202.8 L115.9 203.7 L116.4 204.5 L116.9 205.3 L117.4 205.9 L117.9 206.6 L118.4 207.2 L118.9 207.8 L119.4 208.4 L119.9 208.9 L120.4 209.5 L120.9 210.0 L121.4 210.6 L121.9 211.2 L122.4 211.9 L122.9 212.5 L123.4 213.2 L123.9 213.9 L124.4 214.7 L124.9 215.4 L125.4 216.3 L125.9 217.1 L126.4 218.0 L126.9 219.0 L127.4 219.9 L127.9 220.9 L128.4 221.8 L128.9 222.7 L129.4 223.6 L129.9 224.6 L130.4 225.5 L130.9 226.4 L131.4 227.2 L131.9 228.0 L132.4 228.8 L132.9 229.6 L133.4 230.3 L133.9 231.0 L134.4 231.5 L134.9 232.0 L135.4 232.4 L135.9 232.8 L136.4 233.2 L136.9 233.5 L137.4 233.6 L137.9 233.7 L138.4 233.7 L138.9 233.6 L139.4 233.5 L139.9 233.4 L140.4 233.2 L140.9 233.1 L141.4 232.9 L141.9 232.7 L142.4 232.4 L142.9 232.2 L143.4 231.9 L143.9 231.7 L144.4 231.5 L144.9 231.3 L145.4 231.1 L145.9 231.0 L146.4 230.9 L146.9 230.8 L147.4 230.8 L147.9 230.9 L148.4 231.1 L148.9 231.4 L149.4 231.8 L149.9 232.2 L150.4 232.7 L150.9 233.2 L151.4 233.8 L151.9 234.4 L152.4 235.1 L152.9 235.8 L153.4 236.6 L153.9 237.3 L154.4 238.1 L154.9 239.0 L155.4 239.8 L155.9 240.7 L156.4 241.6 L156.9 242.5 L157.4 243.3 L157.9 244.2 L158.4 245.0 L158.9 245.9 L159.4 246.7 L159.9 247.5 L160.4 248.3 L160.9 248.9 L161.4 249.4 L161.9 249.9 L162.4 250.4 L162.9 250.8 L163.4 251.2 L163.9 251.6 L164.4 251.9 L164.9 252.2 L165.4 252.4 L165.9 252.6 L166.4 252.9 L166.9 253.1 L167.4 253.3 L167.9 253.5 L168.4 253.7 L168.9 253.8 L169.4 253.9 L169.9 254.0 L170.4 254.1 L170.9 254.2 L171.4 254.3 L171.9 254.3 L172.4 254.4 L172.9 254.4 L173.0 254.4 L173.0 254.6 Z"/>
</g>
<rect x="33.3" y="144.5" width="147.6" height="110.1" fill="none" stroke="#8e8e8e" stroke-width="1.05"/>
<path d="M52.9 254.6 v-1.8 M77.0 254.6 v-1.8 M101.1 254.6 v-1.8 M125.2 254.6 v-1.8 M149.3 254.6 v-1.8 M173.3 254.6 v-1.8 M33.3 254.4 h1.8 M33.3 242.1 h1.8 M33.3 229.9 h1.8 M33.3 217.6 h1.8 M33.3 205.4 h1.8 M33.3 193.2 h1.8 M33.3 181.0 h1.8 M33.3 168.7 h1.8 M33.3 156.4 h1.8" stroke="#555" stroke-width="0.6" fill="none"/>
<text class="t" style="font-size:6.6px" transform="translate(52.9 261.6) scale(1 1.09)" text-anchor="middle">150</text>
<text class="t" style="font-size:6.6px" transform="translate(77.0 261.6) scale(1 1.09)" text-anchor="middle">200</text>
<text class="t" style="font-size:6.6px" transform="translate(101.1 261.6) scale(1 1.09)" text-anchor="middle">250</text>
<text class="t" style="font-size:6.6px" transform="translate(125.2 261.6) scale(1 1.09)" text-anchor="middle">300</text>
<text class="t" style="font-size:6.6px" transform="translate(149.3 261.6) scale(1 1.09)" text-anchor="middle">350</text>
<text class="t" style="font-size:6.6px" transform="translate(173.3 261.6) scale(1 1.09)" text-anchor="middle">400</text>
<text class="t" style="font-size:6.6px" transform="translate(31.5 256.8) scale(1 1.09)" text-anchor="end">0.000</text>
<text class="t" style="font-size:6.6px" transform="translate(31.5 244.5) scale(1 1.09)" text-anchor="end">0.005</text>
<text class="t" style="font-size:6.6px" transform="translate(31.5 232.3) scale(1 1.09)" text-anchor="end">0.010</text>
<text class="t" style="font-size:6.6px" transform="translate(31.5 220.0) scale(1 1.09)" text-anchor="end">0.015</text>
<text class="t" style="font-size:6.6px" transform="translate(31.5 207.8) scale(1 1.09)" text-anchor="end">0.020</text>
<text class="t" style="font-size:6.6px" transform="translate(31.5 195.6) scale(1 1.09)" text-anchor="end">0.025</text>
<text class="t" style="font-size:6.6px" transform="translate(31.5 183.4) scale(1 1.09)" text-anchor="end">0.030</text>
<text class="t" style="font-size:6.6px" transform="translate(31.5 171.1) scale(1 1.09)" text-anchor="end">0.035</text>
<text class="t" style="font-size:6.6px" transform="translate(31.5 158.8) scale(1 1.09)" text-anchor="end">0.040</text>
<text class="l" transform="translate(106.5 270.6) scale(1 1.09)" text-anchor="middle">Length(cm)</text>
<text class="l" transform="translate(10.9 199.8) rotate(-90)" text-anchor="middle">Density</text>
<rect x="129.0" y="147.0" width="49.0" height="20.6" rx="1.5" fill="rgba(255,255,255,0.8)" stroke="#d9d9d9" stroke-width="0.7"/>
<rect class="r" x="131.8" y="150.7" width="11.9" height="4.3"/>
<text class="g" transform="translate(146.2 155.3) scale(1 1.09)">Train set</text>
<rect class="b" x="131.8" y="159.6" width="11.9" height="4.3"/>
<text class="g" transform="translate(146.2 164.1) scale(1 1.09)">Test set</text>
</g>
<g>
<clipPath id="c4"><rect x="210.0" y="145.7" width="147.9" height="110.2"/></clipPath>
<g clip-path="url(#c4)">
<path class="r" d="M218.3 255.4 L218.3 255.0 L218.8 255.0 L219.3 255.0 L219.8 254.9 L220.3 254.9 L220.8 254.8 L221.3 254.7 L221.8 254.6 L222.3 254.5 L222.8 254.4 L223.3 254.3 L223.8 254.1 L224.3 253.9 L224.8 253.7 L225.3 253.5 L225.8 253.2 L226.3 252.9 L226.8 252.6 L227.3 252.3 L227.8 251.9 L228.3 251.4 L228.8 250.8 L229.3 250.2 L229.8 249.6 L230.3 249.0 L230.8 248.2 L231.3 247.3 L231.8 246.4 L232.3 245.4 L232.8 244.4 L233.3 243.2 L233.8 241.9 L234.3 240.5 L234.8 239.1 L235.3 237.6 L235.8 235.9 L236.3 234.1 L236.8 232.2 L237.3 230.2 L237.8 228.0 L238.3 225.7 L238.8 223.4 L239.3 221.3 L239.8 219.3 L240.3 217.2 L240.8 215.1 L241.3 213.0 L241.8 210.9 L242.3 208.8 L242.8 206.5 L243.3 203.9 L243.8 200.6 L244.3 197.7 L244.8 194.8 L245.3 192.0 L245.8 189.3 L246.3 186.7 L246.8 184.1 L247.3 181.6 L247.8 179.0 L248.3 176.2 L248.8 173.4 L249.3 170.7 L249.8 168.2 L250.3 165.8 L250.8 163.6 L251.3 161.5 L251.8 159.7 L252.3 158.1 L252.8 156.6 L253.3 155.5 L253.8 154.6 L254.3 153.8 L254.8 153.2 L255.3 152.8 L255.8 152.5 L256.3 152.4 L256.8 152.6 L257.3 153.1 L257.8 153.6 L258.3 154.4 L258.8 155.5 L259.3 156.6 L259.8 157.8 L260.3 158.9 L260.8 160.2 L261.3 161.5 L261.8 162.8 L262.3 164.2 L262.8 165.6 L263.3 167.0 L263.8 168.4 L264.3 169.7 L264.8 171.0 L265.3 172.2 L265.8 173.4 L266.3 174.6 L266.8 175.6 L267.3 176.7 L267.8 177.7 L268.3 178.7 L268.8 179.5 L269.3 180.2 L269.8 180.8 L270.3 181.4 L270.8 181.9 L271.3 182.4 L271.8 182.8 L272.3 183.0 L272.8 183.2 L273.3 183.2 L273.8 183.3 L274.3 183.3 L274.8 183.3 L275.3 183.3 L275.8 183.4 L276.3 183.6 L276.8 183.8 L277.3 184.1 L277.8 184.4 L278.3 184.7 L278.8 185.2 L279.3 185.8 L279.8 186.6 L280.3 187.4 L280.8 188.3 L281.3 189.2 L281.8 190.2 L282.3 191.3 L282.8 192.5 L283.3 193.8 L283.8 195.1 L284.3 196.7 L284.8 198.4 L285.3 200.1 L285.8 201.7 L286.3 203.3 L286.8 204.9 L287.3 206.4 L287.8 207.9 L288.3 209.2 L288.8 210.5 L289.3 211.7 L289.8 212.8 L290.3 213.8 L290.8 214.8 L291.3 215.7 L291.8 216.6 L292.3 217.5 L292.8 218.3 L293.3 219.0 L293.8 219.7 L294.3 220.3 L294.8 220.9 L295.3 221.4 L295.8 221.9 L296.3 222.4 L296.8 222.9 L297.3 223.3 L297.8 223.8 L298.3 224.3 L298.8 224.8 L299.3 225.2 L299.8 225.7 L300.3 226.1 L300.8 226.6 L301.3 227.1 L301.8 227.6 L302.3 228.1 L302.8 228.7 L303.3 229.2 L303.8 229.8 L304.3 230.4 L304.8 231.0 L305.3 231.6 L305.8 232.3 L306.3 232.9 L306.8 233.5 L307.3 234.0 L307.8 234.6 L308.3 235.2 L308.8 235.7 L309.3 236.2 L309.8 236.6 L310.3 237.0 L310.8 237.3 L311.3 237.6 L311.8 237.9 L312.3 238.1 L312.8 238.3 L313.3 238.4 L313.8 238.4 L314.3 238.4 L314.8 238.3 L315.3 238.1 L315.8 237.9 L316.3 237.7 L316.8 237.4 L317.3 237.1 L317.8 236.7 L318.3 236.2 L318.8 235.7 L319.3 235.2 L319.8 234.8 L320.3 234.4 L320.8 233.9 L321.3 233.5 L321.8 233.0 L322.3 232.6 L322.8 232.3 L323.3 232.0 L323.8 231.8 L324.3 231.6 L324.8 231.5 L325.3 231.5 L325.8 231.6 L326.3 231.7 L326.8 232.0 L327.3 232.3 L327.8 232.7 L328.3 233.0 L328.8 233.5 L329.3 234.1 L329.8 234.8 L330.3 235.5 L330.8 236.2 L331.3 237.0 L331.8 237.8 L332.3 238.7 L332.8 239.6 L333.3 240.5 L333.8 241.5 L334.3 242.4 L334.8 243.3 L335.3 244.3 L335.8 245.3 L336.3 246.3 L336.8 247.3 L337.3 248.1 L337.8 248.9 L338.3 249.5 L338.8 250.1 L339.3 250.7 L339.8 251.2 L340.3 251.6 L340.8 252.0 L341.3 252.3 L341.8 252.5 L342.3 252.8 L342.8 253.0 L343.3 253.2 L343.8 253.4 L344.3 253.6 L344.8 253.8 L345.3 253.9 L345.8 254.1 L346.3 254.2 L346.8 254.3 L347.3 254.5 L347.8 254.6 L348.3 254.7 L348.8 254.8 L349.3 254.8 L349.8 254.9 L350.3 255.0 L350.8 255.0 L351.0 255.0 L351.0 255.4 Z"/>
<path class="b" d="M215.7 255.4 L215.7 255.0 L216.2 255.0 L216.7 255.0 L217.2 255.0 L217.7 254.9 L218.2 254.9 L218.7 254.8 L219.2 254.7 L219.7 254.6 L220.2 254.5 L220.7 254.4 L221.2 254.3 L221.7 254.2 L222.2 254.0 L222.7 253.8 L223.2 253.6 L223.7 253.3 L224.2 253.0 L224.7 252.8 L225.2 252.4 L225.7 252.0 L226.2 251.6 L226.7 251.0 L227.2 250.5 L227.7 249.9 L228.2 249.2 L228.7 248.5 L229.2 247.7 L229.7 246.8 L230.2 245.8 L230.7 244.8 L231.2 243.7 L231.7 242.4 L232.2 241.1 L232.7 239.7 L233.2 238.2 L233.7 236.6 L234.2 234.9 L234.7 233.1 L235.2 231.2 L235.7 229.2 L236.2 227.0 L236.7 224.8 L237.2 222.6 L237.7 220.6 L238.2 218.5 L238.7 216.5 L239.2 214.4 L239.7 212.4 L240.2 210.5 L240.7 208.6 L241.2 206.5 L241.7 203.7 L242.2 200.0 L242.7 197.2 L243.2 194.7 L243.7 192.3 L244.2 189.8 L244.7 187.1 L245.2 184.4 L245.7 181.7 L246.2 179.0 L246.7 176.2 L247.2 173.4 L247.7 170.7 L248.2 168.3 L248.7 166.0 L249.2 163.8 L249.7 161.9 L250.2 160.1 L250.7 158.4 L251.2 156.8 L251.7 155.5 L252.2 154.4 L252.7 153.4 L253.2 152.5 L253.7 151.9 L254.2 151.5 L254.7 151.1 L255.2 150.9 L255.7 150.9 L256.2 151.2 L256.7 151.6 L257.2 152.1 L257.7 152.7 L258.2 153.6 L258.7 154.7 L259.2 155.8 L259.7 157.0 L260.2 158.3 L260.7 159.6 L261.2 161.0 L261.7 162.4 L262.2 163.8 L262.7 165.4 L263.2 166.9 L263.7 168.3 L264.2 169.7 L264.7 171.0 L265.2 172.3 L265.7 173.5 L266.2 174.6 L266.7 175.7 L267.2 176.8 L267.7 177.8 L268.2 178.7 L268.7 179.5 L269.2 180.2 L269.7 180.9 L270.2 181.5 L270.7 182.1 L271.2 182.6 L271.7 183.2 L272.2 183.7 L272.7 184.2 L273.2 184.7 L273.7 185.1 L274.2 185.6 L274.7 186.1 L275.2 186.7 L275.7 187.4 L276.2 188.1 L276.7 188.9 L277.2 189.7 L277.7 190.6 L278.2 191.5 L278.7 192.5 L279.2 193.6 L279.7 194.8 L280.2 196.0 L280.7 197.1 L281.2 198.1 L281.7 199.0 L282.2 199.8 L282.7 200.6 L283.2 201.4 L283.7 202.5 L284.2 203.7 L284.7 205.2 L285.2 206.7 L285.7 208.4 L286.2 209.9 L286.7 211.4 L287.2 212.9 L287.7 214.3 L288.2 215.7 L288.7 216.9 L289.2 218.0 L289.7 219.0 L290.2 219.9 L290.7 220.7 L291.2 221.5 L291.7 222.2 L292.2 222.7 L292.7 223.2 L293.2 223.7 L293.7 224.1 L294.2 224.5 L294.7 224.9 L295.2 225.3 L295.7 225.5 L296.2 225.8 L296.7 226.0 L297.2 226.1 L297.7 226.3 L298.2 226.4 L298.7 226.6 L299.2 226.7 L299.7 226.9 L300.2 227.1 L300.7 227.4 L301.2 227.7 L301.7 228.0 L302.2 228.4 L302.7 228.8 L303.2 229.2 L303.7 229.7 L304.2 230.3 L304.7 230.9 L305.2 231.5 L305.7 232.2 L306.2 232.8 L306.7 233.3 L307.2 233.9 L307.7 234.5 L308.2 235.1 L308.7 235.6 L309.2 236.1 L309.7 236.6 L310.2 237.0 L310.7 237.4 L311.2 237.8 L311.7 238.1 L312.2 238.4 L312.7 238.6 L313.2 238.7 L313.7 238.8 L314.2 238.8 L314.7 238.8 L315.2 238.8 L315.7 238.7 L316.2 238.5 L316.7 238.3 L317.2 238.1 L317.7 237.8 L318.2 237.5 L318.7 237.2 L319.2 236.9 L319.7 236.6 L320.2 236.2 L320.7 235.8 L321.2 235.5 L321.7 235.1 L322.2 234.8 L322.7 234.6 L323.2 234.5 L323.7 234.3 L324.2 234.3 L324.7 234.3 L325.2 234.3 L325.7 234.5 L326.2 234.7 L326.7 235.0 L327.2 235.3 L327.7 235.7 L328.2 236.1 L328.7 236.7 L329.2 237.4 L329.7 238.1 L330.2 238.8 L330.7 239.5 L331.2 240.3 L331.7 241.2 L332.2 242.0 L332.7 242.9 L333.2 243.7 L333.7 244.5 L334.2 245.3 L334.7 246.2 L335.2 247.0 L335.7 247.8 L336.2 248.5 L336.7 249.1 L337.2 249.7 L337.7 250.3 L338.2 250.8 L338.7 251.2 L339.2 251.7 L339.7 252.0 L340.2 252.3 L340.7 252.6 L341.2 252.9 L341.7 253.1 L342.2 253.4 L342.7 253.6 L343.2 253.8 L343.7 253.9 L344.2 254.0 L344.7 254.2 L345.2 254.3 L345.7 254.4 L346.2 254.5 L346.7 254.6 L347.2 254.7 L347.7 254.8 L348.2 254.8 L348.7 254.9 L349.2 254.9 L349.7 255.0 L350.0 255.0 L350.0 255.4 Z"/>
</g>
<rect x="210.0" y="145.7" width="147.9" height="109.7" fill="none" stroke="#8e8e8e" stroke-width="1.05"/>
<path d="M232.9 255.4 v-1.8 M256.0 255.4 v-1.8 M279.1 255.4 v-1.8 M302.2 255.4 v-1.8 M325.2 255.4 v-1.8 M348.2 255.4 v-1.8 M210.0 254.8 h1.8 M210.0 233.2 h1.8 M210.0 211.5 h1.8 M210.0 189.8 h1.8 M210.0 168.2 h1.8 M210.0 146.6 h1.8" stroke="#555" stroke-width="0.6" fill="none"/>
<text class="t" style="font-size:6.3px" transform="translate(232.9 263.1) scale(1 1.09)" text-anchor="middle">150</text>
<text class="t" style="font-size:6.3px" transform="translate(256.0 263.1) scale(1 1.09)" text-anchor="middle">200</text>
<text class="t" style="font-size:6.3px" transform="translate(279.1 263.1) scale(1 1.09)" text-anchor="middle">250</text>
<text class="t" style="font-size:6.3px" transform="translate(302.2 263.1) scale(1 1.09)" text-anchor="middle">300</text>
<text class="t" style="font-size:6.3px" transform="translate(325.2 263.1) scale(1 1.09)" text-anchor="middle">350</text>
<text class="t" style="font-size:6.3px" transform="translate(348.2 263.1) scale(1 1.09)" text-anchor="middle">400</text>
<text class="t" style="font-size:6.3px" transform="translate(208.2 257.2) scale(1 1.09)" text-anchor="end">0.000</text>
<text class="t" style="font-size:6.3px" transform="translate(208.2 235.6) scale(1 1.09)" text-anchor="end">0.001</text>
<text class="t" style="font-size:6.3px" transform="translate(208.2 213.9) scale(1 1.09)" text-anchor="end">0.002</text>
<text class="t" style="font-size:6.3px" transform="translate(208.2 192.2) scale(1 1.09)" text-anchor="end">0.003</text>
<text class="t" style="font-size:6.3px" transform="translate(208.2 170.6) scale(1 1.09)" text-anchor="end">0.004</text>
<text class="t" style="font-size:6.3px" transform="translate(208.2 149.0) scale(1 1.09)" text-anchor="end">0.005</text>
<text class="l" transform="translate(283.0 273.1) scale(1 1.09)" text-anchor="middle">Width(cm)</text>
<text class="l" transform="translate(191.0 198.5) rotate(-90)" text-anchor="middle">Density</text>
<rect x="305.6" y="148.4" width="49.4" height="20.6" rx="1.5" fill="rgba(255,255,255,0.8)" stroke="#d9d9d9" stroke-width="0.7"/>
<rect class="r" x="308.4" y="152.1" width="11.9" height="4.3"/>
<text class="g" transform="translate(322.8 156.7) scale(1 1.09)">Train set</text>
<rect class="b" x="308.4" y="161.0" width="11.9" height="4.3"/>
<text class="g" transform="translate(322.8 165.5) scale(1 1.09)">Test set</text>
</g>
<g>
<clipPath id="c5"><rect x="392.5" y="144.5" width="149.5" height="111.6"/></clipPath>
<g clip-path="url(#c5)">
<path class="r" d="M397.5 255.6 L397.5 255.6 L398.0 255.6 L398.5 255.5 L399.0 255.5 L399.5 255.4 L400.0 255.3 L400.5 255.2 L401.0 255.1 L401.5 255.0 L402.0 254.9 L402.5 254.7 L403.0 254.5 L403.5 254.3 L404.0 254.1 L404.5 253.9 L405.0 253.7 L405.5 253.3 L406.0 253.0 L406.5 252.6 L407.0 252.1 L407.5 251.6 L408.0 251.1 L408.5 250.6 L409.0 250.0 L409.5 249.3 L410.0 248.4 L410.5 247.6 L411.0 246.6 L411.5 245.7 L412.0 244.7 L412.5 243.6 L413.0 242.4 L413.5 241.1 L414.0 239.7 L414.5 238.2 L415.0 236.6 L415.5 234.8 L416.0 232.9 L416.5 230.9 L417.0 228.8 L417.5 226.6 L418.0 224.3 L418.5 221.9 L419.0 219.6 L419.5 217.3 L420.0 214.9 L420.5 212.5 L421.0 210.1 L421.5 207.8 L422.0 205.2 L422.5 202.4 L423.0 198.6 L423.5 194.7 L424.0 191.3 L424.5 188.0 L425.0 184.8 L425.5 181.8 L426.0 179.0 L426.5 176.5 L427.0 174.2 L427.5 172.1 L428.0 170.1 L428.5 168.4 L429.0 167.0 L429.5 165.8 L430.0 164.6 L430.5 163.6 L431.0 163.0 L431.5 162.6 L432.0 162.3 L432.5 162.1 L433.0 162.0 L433.5 162.1 L434.0 162.5 L434.5 162.9 L435.0 163.5 L435.5 164.2 L436.0 165.0 L436.5 166.1 L437.0 167.6 L437.5 169.4 L438.0 171.5 L438.5 173.6 L439.0 175.8 L439.5 178.2 L440.0 180.8 L440.5 183.4 L441.0 186.0 L441.5 188.6 L442.0 191.2 L442.5 193.8 L443.0 196.3 L443.5 198.4 L444.0 200.2 L444.5 201.8 L445.0 203.3 L445.5 205.1 L446.0 206.9 L446.5 208.7 L447.0 210.4 L447.5 211.9 L448.0 213.5 L448.5 214.9 L449.0 216.3 L449.5 217.4 L450.0 218.4 L450.5 219.4 L451.0 220.3 L451.5 221.1 L452.0 221.8 L452.5 222.2 L453.0 222.3 L453.5 222.2 L454.0 222.1 L454.5 221.9 L455.0 221.6 L455.5 221.4 L456.0 221.1 L456.5 220.7 L457.0 220.4 L457.5 220.0 L458.0 219.6 L458.5 219.3 L459.0 218.9 L459.5 218.5 L460.0 218.2 L460.5 217.9 L461.0 217.5 L461.5 217.2 L462.0 216.9 L462.5 216.6 L463.0 216.3 L463.5 216.0 L464.0 215.8 L464.5 215.6 L465.0 215.5 L465.5 215.3 L466.0 215.1 L466.5 215.0 L467.0 214.8 L467.5 214.7 L468.0 214.5 L468.5 214.3 L469.0 214.1 L469.5 214.0 L470.0 213.8 L470.5 213.6 L471.0 213.4 L471.5 213.1 L472.0 212.9 L472.5 212.6 L473.0 212.2 L473.5 211.9 L474.0 211.5 L474.5 211.2 L475.0 210.9 L475.5 210.7 L476.0 210.5 L476.5 210.3 L477.0 210.2 L477.5 210.1 L478.0 210.1 L478.5 210.2 L479.0 210.4 L479.5 210.6 L480.0 211.0 L480.5 211.3 L481.0 211.8 L481.5 212.4 L482.0 213.1 L482.5 213.9 L483.0 214.8 L483.5 215.8 L484.0 216.8 L484.5 218.0 L485.0 219.2 L485.5 220.5 L486.0 221.8 L486.5 223.1 L487.0 224.5 L487.5 225.9 L488.0 227.3 L488.5 228.6 L489.0 229.9 L489.5 231.2 L490.0 232.5 L490.5 233.7 L491.0 234.8 L491.5 235.9 L492.0 237.0 L492.5 238.1 L493.0 239.1 L493.5 240.0 L494.0 240.8 L494.5 241.6 L495.0 242.4 L495.5 243.1 L496.0 243.8 L496.5 244.5 L497.0 245.1 L497.5 245.7 L498.0 246.2 L498.5 246.7 L499.0 247.2 L499.5 247.6 L500.0 248.1 L500.5 248.5 L501.0 248.9 L501.5 249.3 L502.0 249.7 L502.5 250.0 L503.0 250.4 L503.5 250.7 L504.0 251.1 L504.5 251.4 L505.0 251.6 L505.5 251.9 L506.0 252.1 L506.5 252.4 L507.0 252.6 L507.5 252.8 L508.0 253.0 L508.5 253.2 L509.0 253.3 L509.5 253.5 L510.0 253.6 L510.5 253.7 L511.0 253.8 L511.5 253.9 L512.0 254.0 L512.5 254.1 L513.0 254.2 L513.5 254.2 L514.0 254.3 L514.5 254.4 L515.0 254.4 L515.5 254.5 L516.0 254.5 L516.5 254.6 L517.0 254.6 L517.5 254.7 L518.0 254.7 L518.5 254.8 L519.0 254.8 L519.5 254.8 L520.0 254.8 L520.5 254.9 L521.0 254.9 L521.5 254.9 L522.0 254.9 L522.5 255.0 L523.0 255.0 L523.5 255.0 L524.0 255.0 L524.5 255.0 L525.0 255.0 L525.5 255.0 L526.0 255.0 L526.5 255.0 L527.0 255.0 L527.5 255.1 L528.0 255.1 L528.5 255.1 L529.0 255.1 L529.5 255.1 L530.0 255.1 L530.5 255.1 L531.0 255.1 L531.5 255.2 L532.0 255.2 L532.5 255.2 L533.0 255.2 L533.5 255.3 L534.0 255.3 L534.5 255.3 L535.0 255.3 L535.5 255.4 L536.0 255.4 L536.0 255.6 Z"/>
<path class="b" d="M398.0 255.6 L398.0 255.6 L398.5 255.6 L399.0 255.5 L399.5 255.5 L400.0 255.4 L400.5 255.3 L401.0 255.2 L401.5 255.1 L402.0 255.0 L402.5 254.8 L403.0 254.7 L403.5 254.5 L404.0 254.3 L404.5 254.1 L405.0 253.9 L405.5 253.6 L406.0 253.3 L406.5 252.9 L407.0 252.5 L407.5 252.0 L408.0 251.5 L408.5 251.0 L409.0 250.5 L409.5 249.8 L410.0 249.1 L410.5 248.3 L411.0 247.4 L411.5 246.4 L412.0 245.5 L412.5 244.5 L413.0 243.3 L413.5 242.1 L414.0 240.8 L414.5 239.4 L415.0 237.9 L415.5 236.2 L416.0 234.4 L416.5 232.5 L417.0 230.5 L417.5 228.4 L418.0 226.2 L418.5 223.8 L419.0 221.5 L419.5 219.1 L420.0 216.8 L420.5 214.4 L421.0 212.0 L421.5 209.7 L422.0 207.5 L422.5 205.1 L423.0 202.4 L423.5 199.0 L424.0 195.4 L424.5 192.0 L425.0 188.7 L425.5 185.4 L426.0 182.1 L426.5 179.0 L427.0 176.0 L427.5 173.1 L428.0 170.2 L428.5 167.5 L429.0 164.8 L429.5 162.3 L430.0 160.0 L430.5 157.8 L431.0 155.6 L431.5 153.8 L432.0 152.4 L432.5 151.3 L433.0 150.4 L433.5 149.7 L434.0 149.2 L434.5 149.0 L435.0 149.2 L435.5 149.7 L436.0 150.5 L436.5 151.4 L437.0 152.4 L437.5 153.7 L438.0 155.5 L438.5 157.7 L439.0 160.0 L439.5 162.5 L440.0 165.2 L440.5 168.2 L441.0 171.4 L441.5 174.7 L442.0 178.0 L442.5 181.4 L443.0 185.1 L443.5 188.8 L444.0 192.3 L444.5 195.4 L445.0 198.0 L445.5 200.3 L446.0 202.3 L446.5 204.4 L447.0 206.6 L447.5 208.7 L448.0 210.7 L448.5 212.6 L449.0 214.4 L449.5 216.2 L450.0 217.7 L450.5 219.0 L451.0 220.2 L451.5 221.3 L452.0 222.3 L452.5 223.0 L453.0 223.5 L453.5 223.9 L454.0 224.2 L454.5 224.3 L455.0 224.2 L455.5 224.0 L456.0 223.8 L456.5 223.5 L457.0 223.2 L457.5 222.9 L458.0 222.6 L458.5 222.3 L459.0 221.9 L459.5 221.5 L460.0 221.2 L460.5 220.9 L461.0 220.6 L461.5 220.3 L462.0 220.0 L462.5 219.7 L463.0 219.4 L463.5 219.1 L464.0 218.9 L464.5 218.7 L465.0 218.5 L465.5 218.4 L466.0 218.2 L466.5 218.1 L467.0 218.0 L467.5 217.9 L468.0 217.7 L468.5 217.6 L469.0 217.4 L469.5 217.2 L470.0 217.0 L470.5 216.7 L471.0 216.5 L471.5 216.3 L472.0 216.0 L472.5 215.7 L473.0 215.4 L473.5 215.0 L474.0 214.6 L474.5 214.3 L475.0 213.9 L475.5 213.7 L476.0 213.4 L476.5 213.3 L477.0 213.2 L477.5 213.1 L478.0 213.1 L478.5 213.2 L479.0 213.4 L479.5 213.7 L480.0 214.1 L480.5 214.5 L481.0 215.0 L481.5 215.7 L482.0 216.6 L482.5 217.6 L483.0 218.7 L483.5 219.8 L484.0 221.0 L484.5 222.3 L485.0 223.7 L485.5 225.1 L486.0 226.4 L486.5 227.8 L487.0 229.2 L487.5 230.5 L488.0 231.8 L488.5 233.1 L489.0 234.3 L489.5 235.4 L490.0 236.5 L490.5 237.6 L491.0 238.6 L491.5 239.6 L492.0 240.6 L492.5 241.5 L493.0 242.5 L493.5 243.3 L494.0 244.1 L494.5 244.7 L495.0 245.4 L495.5 246.0 L496.0 246.6 L496.5 247.2 L497.0 247.7 L497.5 248.2 L498.0 248.7 L498.5 249.2 L499.0 249.6 L499.5 250.1 L500.0 250.6 L500.5 251.0 L501.0 251.4 L501.5 251.7 L502.0 252.1 L502.5 252.4 L503.0 252.6 L503.5 252.9 L504.0 253.2 L504.5 253.4 L505.0 253.6 L505.5 253.8 L506.0 254.0 L506.5 254.2 L507.0 254.4 L507.5 254.6 L508.0 254.8 L508.5 254.9 L509.0 255.1 L509.5 255.2 L510.0 255.3 L510.5 255.3 L511.0 255.4 L511.5 255.5 L512.0 255.5 L512.5 255.6 L513.0 255.6 L513.5 255.6 L514.0 255.6 L514.0 255.6 Z"/>
</g>
<rect x="392.5" y="144.5" width="149.5" height="111.1" fill="none" stroke="#8e8e8e" stroke-width="1.05"/>
<path d="M418.3 255.6 v-1.8 M449.0 255.6 v-1.8 M479.7 255.6 v-1.8 M510.4 255.6 v-1.8 M541.1 255.6 v-1.8 M392.5 255.6 h1.8 M392.5 242.4 h1.8 M392.5 229.2 h1.8 M392.5 216.0 h1.8 M392.5 202.8 h1.8 M392.5 189.6 h1.8 M392.5 176.4 h1.8 M392.5 163.2 h1.8 M392.5 150.0 h1.8" stroke="#555" stroke-width="0.6" fill="none"/>
<text class="t" style="font-size:6.5px" transform="translate(418.3 262.7) scale(1 1.09)" text-anchor="middle">10</text>
<text class="t" style="font-size:6.5px" transform="translate(449.0 262.7) scale(1 1.09)" text-anchor="middle">20</text>
<text class="t" style="font-size:6.5px" transform="translate(479.7 262.7) scale(1 1.09)" text-anchor="middle">30</text>
<text class="t" style="font-size:6.5px" transform="translate(510.4 262.7) scale(1 1.09)" text-anchor="middle">40</text>
<text class="t" style="font-size:6.5px" transform="translate(541.1 262.7) scale(1 1.09)" text-anchor="middle">50</text>
<text class="t" style="font-size:6.5px" transform="translate(390.7 258.0) scale(1 1.09)" text-anchor="end">0.000</text>
<text class="t" style="font-size:6.5px" transform="translate(390.7 244.8) scale(1 1.09)" text-anchor="end">0.005</text>
<text class="t" style="font-size:6.5px" transform="translate(390.7 231.6) scale(1 1.09)" text-anchor="end">0.010</text>
<text class="t" style="font-size:6.5px" transform="translate(390.7 218.4) scale(1 1.09)" text-anchor="end">0.015</text>
<text class="t" style="font-size:6.5px" transform="translate(390.7 205.2) scale(1 1.09)" text-anchor="end">0.020</text>
<text class="t" style="font-size:6.5px" transform="translate(390.7 192.0) scale(1 1.09)" text-anchor="end">0.025</text>
<text class="t" style="font-size:6.5px" transform="translate(390.7 178.8) scale(1 1.09)" text-anchor="end">0.030</text>
<text class="t" style="font-size:6.5px" transform="translate(390.7 165.6) scale(1 1.09)" text-anchor="end">0.035</text>
<text class="t" style="font-size:6.5px" transform="translate(390.7 152.4) scale(1 1.09)" text-anchor="end">0.040</text>
<text class="l" transform="translate(468.8 273.0) scale(1 1.09)" text-anchor="middle">Thickness(cm)</text>
<text class="l" transform="translate(367.7 199.9) rotate(-90)" text-anchor="middle">Density</text>
<rect x="489.0" y="147.0" width="49.4" height="20.6" rx="1.5" fill="rgba(255,255,255,0.8)" stroke="#d9d9d9" stroke-width="0.7"/>
<rect class="r" x="491.8" y="150.7" width="11.9" height="4.3"/>
<text class="g" transform="translate(506.2 155.3) scale(1 1.09)">Train set</text>
<rect class="b" x="491.8" y="159.6" width="11.9" height="4.3"/>
<text class="g" transform="translate(506.2 164.1) scale(1 1.09)">Test set</text>
</g>
<g>
<clipPath id="c6"><rect x="31.4" y="286.4" width="149.5" height="111.5"/></clipPath>
<g clip-path="url(#c6)">
<path class="r" d="M37.5 397.4 L37.5 397.0 L38.0 397.0 L38.5 396.8 L39.0 396.5 L39.5 396.0 L40.0 395.5 L40.5 394.8 L41.0 393.9 L41.5 393.0 L42.0 392.1 L42.5 391.1 L43.0 389.7 L43.5 387.1 L44.0 383.8 L44.5 380.5 L45.0 377.2 L45.5 373.6 L46.0 369.5 L46.5 364.8 L47.0 359.8 L47.5 354.6 L48.0 349.4 L48.5 344.2 L49.0 340.1 L49.5 336.6 L50.0 333.0 L50.5 329.3 L51.0 325.1 L51.5 320.5 L52.0 316.0 L52.5 311.5 L53.0 307.0 L53.5 302.7 L54.0 298.3 L54.5 295.0 L55.0 292.9 L55.5 291.6 L56.0 291.5 L56.5 292.4 L57.0 294.0 L57.5 296.4 L58.0 299.9 L58.5 303.5 L59.0 307.4 L59.5 311.4 L60.0 315.1 L60.5 318.7 L61.0 322.2 L61.5 325.4 L62.0 328.3 L62.5 331.1 L63.0 333.6 L63.5 335.8 L64.0 337.8 L64.5 339.7 L65.0 341.3 L65.5 342.8 L66.0 344.2 L66.5 345.5 L67.0 346.8 L67.5 347.9 L68.0 348.9 L68.5 349.8 L69.0 350.8 L69.5 352.0 L70.0 353.2 L70.5 354.6 L71.0 356.0 L71.5 357.5 L72.0 359.0 L72.5 360.7 L73.0 362.4 L73.5 364.2 L74.0 366.3 L74.5 368.4 L75.0 370.4 L75.5 372.3 L76.0 374.0 L76.5 375.7 L77.0 377.2 L77.5 378.6 L78.0 379.9 L78.5 381.1 L79.0 382.1 L79.5 382.9 L80.0 383.6 L80.5 384.3 L81.0 384.8 L81.5 385.0 L82.0 385.0 L82.5 384.9 L83.0 384.8 L83.5 384.7 L84.0 384.4 L84.5 384.2 L85.0 383.9 L85.5 383.5 L86.0 383.2 L86.5 382.9 L87.0 382.7 L87.5 382.5 L88.0 382.3 L88.5 382.1 L89.0 382.0 L89.5 382.0 L90.0 382.0 L90.5 382.2 L91.0 382.4 L91.5 382.8 L92.0 383.1 L92.5 383.5 L93.0 384.0 L93.5 384.6 L94.0 385.3 L94.5 386.1 L95.0 386.8 L95.5 387.6 L96.0 388.2 L96.5 388.8 L97.0 389.4 L97.5 389.9 L98.0 390.4 L98.5 390.9 L99.0 391.3 L99.5 391.6 L100.0 391.8 L100.5 392.1 L101.0 392.3 L101.5 392.5 L102.0 392.7 L102.5 392.9 L103.0 393.1 L103.5 393.3 L104.0 393.4 L104.5 393.6 L105.0 393.8 L105.5 393.9 L106.0 394.1 L106.5 394.3 L107.0 394.4 L107.5 394.6 L108.0 394.8 L108.5 395.0 L109.0 395.2 L109.5 395.4 L110.0 395.5 L110.5 395.6 L111.0 395.7 L111.5 395.8 L112.0 395.9 L112.5 395.9 L113.0 395.9 L113.5 396.0 L114.0 395.9 L114.5 395.9 L115.0 395.9 L115.5 395.8 L116.0 395.7 L116.5 395.6 L117.0 395.5 L117.5 395.5 L118.0 395.4 L118.5 395.3 L119.0 395.2 L119.5 395.1 L120.0 395.0 L120.5 394.9 L121.0 394.8 L121.5 394.8 L122.0 394.7 L122.5 394.6 L123.0 394.6 L123.5 394.6 L124.0 394.7 L124.5 394.8 L125.0 394.9 L125.5 395.1 L126.0 395.2 L126.5 395.4 L127.0 395.5 L127.5 395.7 L128.0 395.9 L128.5 396.1 L129.0 396.3 L129.5 396.5 L130.0 396.6 L130.5 396.8 L131.0 396.9 L131.5 396.9 L132.0 397.0 L132.5 397.0 L133.0 397.0 L133.5 397.0 L134.0 397.0 L134.0 397.4 Z"/>
<path class="r" d="M141.7 397.4 L141.7 397.0 L142.2 397.0 L142.7 397.0 L143.2 397.0 L143.7 396.9 L144.2 396.9 L144.7 396.9 L145.2 396.9 L145.7 396.8 L146.2 396.8 L146.7 396.7 L147.2 396.7 L147.7 396.7 L148.2 396.6 L148.7 396.5 L149.2 396.5 L149.7 396.4 L150.2 396.4 L150.7 396.3 L151.2 396.3 L151.7 396.2 L152.2 396.1 L152.7 396.1 L153.2 396.0 L153.7 395.9 L154.2 395.9 L154.7 395.8 L155.2 395.8 L155.7 395.7 L156.2 395.7 L156.7 395.6 L157.2 395.6 L157.7 395.6 L158.2 395.6 L158.7 395.7 L159.2 395.7 L159.7 395.8 L160.2 395.9 L160.7 395.9 L161.2 396.0 L161.7 396.1 L162.2 396.1 L162.7 396.2 L163.2 396.3 L163.7 396.4 L164.2 396.4 L164.7 396.5 L165.2 396.5 L165.7 396.6 L166.2 396.6 L166.7 396.7 L167.2 396.7 L167.7 396.8 L168.2 396.8 L168.7 396.8 L169.2 396.9 L169.7 396.9 L170.2 396.9 L170.7 397.0 L171.2 397.0 L171.7 397.0 L172.0 397.0 L172.0 397.4 Z"/>
<path class="b" d="M37.5 397.4 L37.5 397.0 L38.0 397.0 L38.5 396.8 L39.0 396.5 L39.5 396.0 L40.0 395.5 L40.5 394.8 L41.0 393.9 L41.5 393.0 L42.0 392.1 L42.5 391.1 L43.0 389.7 L43.5 387.1 L44.0 383.8 L44.5 380.5 L45.0 377.2 L45.5 373.6 L46.0 369.5 L46.5 364.8 L47.0 359.8 L47.5 354.6 L48.0 349.3 L48.5 344.0 L49.0 340.9 L49.5 339.5 L50.0 337.4 L50.5 334.3 L51.0 330.8 L51.5 326.9 L52.0 322.4 L52.5 317.8 L53.0 313.3 L53.5 308.9 L54.0 305.2 L54.5 302.1 L55.0 299.8 L55.5 298.5 L56.0 297.5 L56.5 297.3 L57.0 297.9 L57.5 299.0 L58.0 300.5 L58.5 302.8 L59.0 305.3 L59.5 307.8 L60.0 310.5 L60.5 313.3 L61.0 316.1 L61.5 319.1 L62.0 322.0 L62.5 324.7 L63.0 327.2 L63.5 329.6 L64.0 331.8 L64.5 333.7 L65.0 335.3 L65.5 336.8 L66.0 338.1 L66.5 339.3 L67.0 340.2 L67.5 341.0 L68.0 341.7 L68.5 342.4 L69.0 343.2 L69.5 344.1 L70.0 345.2 L70.5 346.4 L71.0 347.7 L71.5 349.1 L72.0 350.7 L72.5 352.5 L73.0 354.5 L73.5 356.6 L74.0 359.1 L74.5 361.6 L75.0 364.1 L75.5 366.5 L76.0 368.9 L76.5 371.3 L77.0 373.5 L77.5 375.7 L78.0 377.6 L78.5 379.4 L79.0 381.0 L79.5 382.2 L80.0 383.1 L80.5 383.8 L81.0 384.5 L81.5 385.1 L82.0 385.5 L82.5 385.8 L83.0 386.0 L83.5 386.3 L84.0 386.5 L84.5 386.7 L85.0 386.9 L85.5 386.9 L86.0 386.9 L86.5 386.8 L87.0 386.7 L87.5 386.6 L88.0 386.6 L88.5 386.5 L89.0 386.5 L89.5 386.5 L90.0 386.6 L90.5 386.8 L91.0 387.0 L91.5 387.2 L92.0 387.5 L92.5 387.8 L93.0 388.1 L93.5 388.4 L94.0 388.8 L94.5 389.1 L95.0 389.5 L95.5 389.8 L96.0 390.1 L96.5 390.4 L97.0 390.6 L97.5 390.9 L98.0 391.1 L98.5 391.3 L99.0 391.4 L99.5 391.4 L100.0 391.4 L100.5 391.4 L101.0 391.4 L101.5 391.4 L102.0 391.4 L102.5 391.4 L103.0 391.4 L103.5 391.4 L104.0 391.5 L104.5 391.5 L105.0 391.6 L105.5 391.7 L106.0 391.7 L106.5 391.8 L107.0 392.0 L107.5 392.3 L108.0 392.6 L108.5 392.9 L109.0 393.3 L109.5 393.6 L110.0 393.9 L110.5 394.3 L111.0 394.7 L111.5 395.1 L112.0 395.5 L112.5 395.8 L113.0 396.0 L113.5 396.3 L114.0 396.5 L114.5 396.7 L115.0 396.8 L115.5 396.9 L115.9 397.0 L115.9 397.4 Z"/>
<path class="b" d="M141.7 397.4 L141.7 397.0 L142.2 397.0 L142.7 397.0 L143.2 397.0 L143.7 396.9 L144.2 396.9 L144.7 396.9 L145.2 396.9 L145.7 396.8 L146.2 396.8 L146.7 396.7 L147.2 396.7 L147.7 396.7 L148.2 396.6 L148.7 396.5 L149.2 396.5 L149.7 396.4 L150.2 396.4 L150.7 396.3 L151.2 396.3 L151.7 396.2 L152.2 396.1 L152.7 396.1 L153.2 396.0 L153.7 395.9 L154.2 395.9 L154.7 395.8 L155.2 395.8 L155.7 395.7 L156.2 395.7 L156.7 395.6 L157.2 395.6 L157.7 395.6 L158.2 395.6 L158.7 395.7 L159.2 395.7 L159.7 395.8 L160.2 395.9 L160.7 395.9 L161.2 396.0 L161.7 396.1 L162.2 396.1 L162.7 396.2 L163.2 396.3 L163.7 396.4 L164.2 396.4 L164.7 396.5 L165.2 396.5 L165.7 396.6 L166.2 396.6 L166.7 396.7 L167.2 396.7 L167.7 396.8 L168.2 396.8 L168.7 396.8 L169.2 396.9 L169.7 396.9 L170.2 396.9 L170.7 397.0 L171.2 397.0 L171.7 397.0 L172.0 397.0 L172.0 397.4 Z"/>
</g>
<rect x="31.4" y="286.4" width="149.5" height="111.0" fill="none" stroke="#8e8e8e" stroke-width="1.05"/>
<path d="M38.4 397.4 v-1.8 M55.4 397.4 v-1.8 M72.4 397.4 v-1.8 M89.4 397.4 v-1.8 M106.4 397.4 v-1.8 M123.4 397.4 v-1.8 M140.4 397.4 v-1.8 M157.4 397.4 v-1.8 M174.4 397.4 v-1.8 M31.4 397.0 h1.8 M31.4 383.0 h1.8 M31.4 369.0 h1.8 M31.4 355.0 h1.8 M31.4 341.0 h1.8 M31.4 327.0 h1.8 M31.4 313.0 h1.8 M31.4 299.0 h1.8" stroke="#555" stroke-width="0.6" fill="none"/>
<text class="t" style="font-size:6.6px" transform="translate(38.4 403.8) scale(1 1.09)" text-anchor="middle">0.10</text>
<text class="t" style="font-size:6.6px" transform="translate(55.4 403.8) scale(1 1.09)" text-anchor="middle">0.35</text>
<text class="t" style="font-size:6.6px" transform="translate(72.4 403.8) scale(1 1.09)" text-anchor="middle">0.60</text>
<text class="t" style="font-size:6.6px" transform="translate(89.4 403.8) scale(1 1.09)" text-anchor="middle">0.85</text>
<text class="t" style="font-size:6.6px" transform="translate(106.4 403.8) scale(1 1.09)" text-anchor="middle">1.10</text>
<text class="t" style="font-size:6.6px" transform="translate(123.4 403.8) scale(1 1.09)" text-anchor="middle">1.35</text>
<text class="t" style="font-size:6.6px" transform="translate(140.4 403.8) scale(1 1.09)" text-anchor="middle">1.60</text>
<text class="t" style="font-size:6.6px" transform="translate(157.4 403.8) scale(1 1.09)" text-anchor="middle">1.85</text>
<text class="t" style="font-size:6.6px" transform="translate(174.4 403.8) scale(1 1.09)" text-anchor="middle">2.10</text>
<text class="t" style="font-size:6.6px" transform="translate(29.6 400.1) scale(1 1.09)" text-anchor="end">0.0</text>
<text class="t" style="font-size:6.6px" transform="translate(29.6 386.1) scale(1 1.09)" text-anchor="end">0.2</text>
<text class="t" style="font-size:6.6px" transform="translate(29.6 372.1) scale(1 1.09)" text-anchor="end">0.4</text>
<text class="t" style="font-size:6.6px" transform="translate(29.6 358.1) scale(1 1.09)" text-anchor="end">0.6</text>
<text class="t" style="font-size:6.6px" transform="translate(29.6 344.1) scale(1 1.09)" text-anchor="end">0.8</text>
<text class="t" style="font-size:6.6px" transform="translate(29.6 330.1) scale(1 1.09)" text-anchor="end">1.0</text>
<text class="t" style="font-size:6.6px" transform="translate(29.6 316.1) scale(1 1.09)" text-anchor="end">1.2</text>
<text class="t" style="font-size:6.6px" transform="translate(29.6 302.1) scale(1 1.09)" text-anchor="end">1.4</text>
<text class="l" style="font-size:7.82px" transform="translate(107.8 414.0) scale(1 1.09)" text-anchor="middle">Explosion Distance(m)</text>
<text class="l" transform="translate(10.9 340.1) rotate(-90)" text-anchor="middle">Density</text>
<rect x="128.4" y="289.0" width="49.0" height="20.4" rx="1.5" fill="rgba(255,255,255,0.8)" stroke="#d9d9d9" stroke-width="0.7"/>
<rect class="r" x="131.2" y="292.7" width="11.9" height="4.3"/>
<text class="g" transform="translate(145.6 297.2) scale(1 1.09)">Train set</text>
<rect class="b" x="131.2" y="301.4" width="11.9" height="4.3"/>
<text class="g" transform="translate(145.6 306.0) scale(1 1.09)">Test set</text>
</g>
<g>
<clipPath id="c7"><rect x="210.6" y="286.0" width="149.0" height="113.0"/></clipPath>
<g clip-path="url(#c7)">
<path class="r" d="M217.7 398.5 L217.7 398.0 L218.2 397.9 L218.7 397.5 L219.2 397.0 L219.7 396.4 L220.2 395.5 L220.7 394.2 L221.2 392.8 L221.7 391.2 L222.2 389.3 L222.7 387.0 L223.2 383.9 L223.7 379.9 L224.2 374.9 L224.7 368.9 L225.2 362.5 L225.7 355.6 L226.2 349.2 L226.7 343.5 L227.2 338.0 L227.7 331.8 L228.2 325.1 L228.7 318.4 L229.2 312.0 L229.7 306.0 L230.2 301.3 L230.7 298.0 L231.2 296.2 L231.7 296.5 L232.2 298.5 L232.7 301.7 L233.2 305.6 L233.7 309.9 L234.2 314.6 L234.7 319.4 L235.2 324.4 L235.7 329.6 L236.2 334.4 L236.7 338.7 L237.2 342.8 L237.7 346.7 L238.2 350.4 L238.7 354.0 L239.2 357.5 L239.7 360.9 L240.2 364.1 L240.7 367.0 L241.2 369.8 L241.7 372.5 L242.2 375.0 L242.7 377.1 L243.2 378.5 L243.7 379.8 L244.2 380.9 L244.7 381.9 L245.2 382.9 L245.7 383.9 L246.2 384.9 L246.7 386.1 L247.2 387.2 L247.7 388.4 L248.2 389.5 L248.7 390.6 L249.2 391.6 L249.7 392.5 L250.2 393.3 L250.7 394.0 L251.2 394.7 L251.7 395.3 L252.2 395.8 L252.7 396.3 L253.2 396.6 L253.7 397.0 L254.2 397.4 L254.7 397.7 L255.2 397.9 L255.7 398.1 L256.2 398.1 L256.7 398.1 L257.2 398.1 L257.7 398.0 L258.2 398.0 L258.7 397.9 L259.2 397.9 L259.7 397.8 L260.2 397.7 L260.7 397.6 L261.2 397.6 L261.7 397.5 L262.2 397.5 L262.7 397.5 L263.2 397.6 L263.7 397.7 L264.2 397.8 L264.7 397.8 L265.2 397.9 L265.7 398.0 L266.2 398.1 L266.7 398.2 L267.2 398.3 L267.7 398.4 L268.0 398.5 L268.0 398.5 Z"/>
<path class="r" d="M279.0 398.5 L279.0 398.5 L279.5 398.4 L280.0 398.4 L280.5 398.3 L281.0 398.2 L281.5 398.2 L282.0 398.1 L282.5 398.0 L283.0 397.9 L283.5 397.9 L284.0 397.8 L284.5 397.7 L285.0 397.7 L285.5 397.7 L286.0 397.8 L286.5 397.9 L287.0 397.9 L287.5 398.0 L288.0 398.1 L288.5 398.2 L289.0 398.2 L289.5 398.3 L290.0 398.4 L290.5 398.4 L291.0 398.5 L291.0 398.5 Z"/>
<path class="b" d="M217.4 398.5 L217.4 398.0 L217.9 397.9 L218.4 397.5 L218.9 397.0 L219.4 396.4 L219.9 395.5 L220.4 394.2 L220.9 392.8 L221.4 391.2 L221.9 389.2 L222.4 387.0 L222.9 384.2 L223.4 380.6 L223.9 376.1 L224.4 370.2 L224.9 363.8 L225.4 357.0 L225.9 350.4 L226.4 344.9 L226.9 339.9 L227.4 334.4 L227.9 327.9 L228.4 321.1 L228.9 314.3 L229.4 307.5 L229.9 301.2 L230.4 295.5 L230.9 292.5 L231.4 291.4 L231.9 292.5 L232.4 295.6 L232.9 301.3 L233.4 306.4 L233.9 311.3 L234.4 316.3 L234.9 321.8 L235.4 327.7 L235.9 333.4 L236.4 338.0 L236.9 341.7 L237.4 345.4 L237.9 349.5 L238.4 355.1 L238.9 361.7 L239.4 366.4 L239.9 368.8 L240.4 370.9 L240.9 372.5 L241.4 373.8 L241.9 374.8 L242.4 375.6 L242.9 376.2 L243.4 376.8 L243.9 377.4 L244.4 378.1 L244.9 378.8 L245.4 379.7 L245.9 380.7 L246.4 381.7 L246.9 382.8 L247.4 383.9 L247.9 385.0 L248.4 386.1 L248.9 387.2 L249.4 388.3 L249.9 389.3 L250.4 390.2 L250.9 391.1 L251.4 392.0 L251.9 392.8 L252.4 393.6 L252.9 394.4 L253.4 395.2 L253.9 395.9 L254.4 396.4 L254.9 396.8 L255.4 397.2 L255.9 397.6 L256.4 397.8 L256.9 398.0 L257.0 398.0 L257.0 398.5 Z"/>
<path class="b" d="M270.0 398.5 L270.0 398.5 L270.5 398.5 L271.0 398.4 L271.5 398.4 L272.0 398.3 L272.5 398.3 L273.0 398.2 L273.5 398.1 L274.0 398.0 L274.5 398.0 L275.0 397.9 L275.5 397.8 L276.0 397.8 L276.5 397.8 L277.0 397.9 L277.5 398.0 L278.0 398.0 L278.5 398.1 L279.0 398.2 L279.5 398.3 L280.0 398.3 L280.5 398.4 L281.0 398.4 L281.5 398.5 L282.0 398.5 L282.0 398.5 Z"/>
<path class="b" d="M334.0 398.5 L334.0 398.5 L334.5 398.4 L335.0 398.3 L335.5 398.2 L336.0 398.2 L336.5 398.1 L337.0 398.0 L337.5 397.9 L338.0 397.8 L338.5 397.7 L339.0 397.6 L339.5 397.5 L340.0 397.5 L340.5 397.5 L341.0 397.6 L341.5 397.7 L342.0 397.8 L342.5 397.9 L343.0 398.0 L343.5 398.1 L344.0 398.1 L344.5 398.2 L345.0 398.3 L345.5 398.3 L346.0 398.4 L346.5 398.4 L347.0 398.5 L347.0 398.5 Z"/>
</g>
<rect x="210.6" y="286.0" width="149.0" height="112.5" fill="none" stroke="#8e8e8e" stroke-width="1.05"/>
<path d="M211.4 398.5 v-1.8 M228.8 398.5 v-1.8 M246.2 398.5 v-1.8 M263.6 398.5 v-1.8 M281.0 398.5 v-1.8 M298.4 398.5 v-1.8 M315.8 398.5 v-1.8 M333.2 398.5 v-1.8 M350.7 398.5 v-1.8 M210.6 398.4 h1.8 M210.6 382.4 h1.8 M210.6 366.4 h1.8 M210.6 350.4 h1.8 M210.6 334.4 h1.8 M210.6 318.4 h1.8 M210.6 302.4 h1.8 M210.6 286.4 h1.8" stroke="#555" stroke-width="0.6" fill="none"/>
<text class="t" transform="translate(211.4 405.1) scale(1 1.09)" text-anchor="middle">0.0</text>
<text class="t" transform="translate(228.8 405.1) scale(1 1.09)" text-anchor="middle">2.0</text>
<text class="t" transform="translate(246.2 405.1) scale(1 1.09)" text-anchor="middle">4.0</text>
<text class="t" transform="translate(263.6 405.1) scale(1 1.09)" text-anchor="middle">6.0</text>
<text class="t" transform="translate(281.0 405.1) scale(1 1.09)" text-anchor="middle">8.0</text>
<text class="t" transform="translate(298.4 405.1) scale(1 1.09)" text-anchor="middle">10.0</text>
<text class="t" transform="translate(315.8 405.1) scale(1 1.09)" text-anchor="middle">12.0</text>
<text class="t" transform="translate(333.2 405.1) scale(1 1.09)" text-anchor="middle">14.0</text>
<text class="t" transform="translate(350.7 405.1) scale(1 1.09)" text-anchor="middle">16.0</text>
<text class="t" transform="translate(208.8 400.8) scale(1 1.09)" text-anchor="end">0.00</text>
<text class="t" transform="translate(208.8 384.8) scale(1 1.09)" text-anchor="end">0.02</text>
<text class="t" transform="translate(208.8 368.8) scale(1 1.09)" text-anchor="end">0.04</text>
<text class="t" transform="translate(208.8 352.8) scale(1 1.09)" text-anchor="end">0.06</text>
<text class="t" transform="translate(208.8 336.8) scale(1 1.09)" text-anchor="end">0.08</text>
<text class="t" transform="translate(208.8 320.8) scale(1 1.09)" text-anchor="end">0.10</text>
<text class="t" transform="translate(208.8 304.8) scale(1 1.09)" text-anchor="end">0.12</text>
<text class="t" transform="translate(208.8 288.8) scale(1 1.09)" text-anchor="end">0.14</text>
<text class="l" transform="translate(285.0 415.1) scale(1 1.09)" text-anchor="middle">TNT Charge Mass(kg)</text>
<text class="l" transform="translate(190.0 340.5) rotate(-90)" text-anchor="middle">Density</text>
<rect x="307.0" y="288.6" width="49.4" height="20.8" rx="1.5" fill="rgba(255,255,255,0.8)" stroke="#d9d9d9" stroke-width="0.7"/>
<rect class="r" x="309.8" y="292.4" width="11.9" height="4.3"/>
<text class="g" transform="translate(324.2 296.9) scale(1 1.09)">Train set</text>
<rect class="b" x="309.8" y="301.3" width="11.9" height="4.3"/>
<text class="g" transform="translate(324.2 305.9) scale(1 1.09)">Test set</text>
</g>
<g>
<clipPath id="c8"><rect x="393.8" y="285.5" width="150.7" height="113.1"/></clipPath>
<g clip-path="url(#c8)">
<path class="r" d="M402.0 398.1 L402.0 397.6 L402.5 397.6 L403.0 397.6 L403.5 397.5 L404.0 397.4 L404.5 397.3 L405.0 397.2 L405.5 397.0 L406.0 396.8 L406.5 396.7 L407.0 396.5 L407.5 396.3 L408.0 396.0 L408.5 395.6 L409.0 395.2 L409.5 394.8 L410.0 394.3 L410.5 393.7 L411.0 393.2 L411.5 392.5 L412.0 391.6 L412.5 390.5 L413.0 389.4 L413.5 388.4 L414.0 387.2 L414.5 385.8 L415.0 384.3 L415.5 382.6 L416.0 380.6 L416.5 378.3 L417.0 375.9 L417.5 373.5 L418.0 371.0 L418.5 368.5 L419.0 365.8 L419.5 363.0 L420.0 360.2 L420.5 357.2 L421.0 354.2 L421.5 351.0 L422.0 347.6 L422.5 343.2 L423.0 339.0 L423.5 336.1 L424.0 333.6 L424.5 331.2 L425.0 328.8 L425.5 326.2 L426.0 323.5 L426.5 321.0 L427.0 318.7 L427.5 316.5 L428.0 314.5 L428.5 312.9 L429.0 311.7 L429.5 310.6 L430.0 309.7 L430.5 308.8 L431.0 308.1 L431.5 307.5 L432.0 306.9 L432.5 306.4 L433.0 305.9 L433.5 305.4 L434.0 304.9 L434.5 304.4 L435.0 303.9 L435.5 303.5 L436.0 303.0 L436.5 302.6 L437.0 302.1 L437.5 301.6 L438.0 301.0 L438.5 300.3 L439.0 299.5 L439.5 298.7 L440.0 297.9 L440.5 297.0 L441.0 296.2 L441.5 295.3 L442.0 294.4 L442.5 293.6 L443.0 293.0 L443.5 292.5 L444.0 292.0 L444.5 291.7 L445.0 291.4 L445.5 291.2 L446.0 291.2 L446.5 291.5 L447.0 291.9 L447.5 292.4 L448.0 293.0 L448.5 294.0 L449.0 295.3 L449.5 296.9 L450.0 298.6 L450.5 300.6 L451.0 302.8 L451.5 305.1 L452.0 307.5 L452.5 309.9 L453.0 312.5 L453.5 314.9 L454.0 317.3 L454.5 319.7 L455.0 322.0 L455.5 324.3 L456.0 326.7 L456.5 329.0 L457.0 331.4 L457.5 333.8 L458.0 336.4 L458.5 339.4 L459.0 342.4 L459.5 345.0 L460.0 347.0 L460.5 348.7 L461.0 350.3 L461.5 351.7 L462.0 353.0 L462.5 354.3 L463.0 355.6 L463.5 356.6 L464.0 357.5 L464.5 358.4 L465.0 359.2 L465.5 360.0 L466.0 360.6 L466.5 361.0 L467.0 361.3 L467.5 361.5 L468.0 361.7 L468.5 361.9 L469.0 362.1 L469.5 362.3 L470.0 362.5 L470.5 362.7 L471.0 363.0 L471.5 363.3 L472.0 363.6 L472.5 363.9 L473.0 364.3 L473.5 364.8 L474.0 365.4 L474.5 366.1 L475.0 366.9 L475.5 367.7 L476.0 368.7 L476.5 369.7 L477.0 370.8 L477.5 371.9 L478.0 373.0 L478.5 374.2 L479.0 375.4 L479.5 376.6 L480.0 377.7 L480.5 378.7 L481.0 379.8 L481.5 380.7 L482.0 381.7 L482.5 382.6 L483.0 383.5 L483.5 384.5 L484.0 385.4 L484.5 386.2 L485.0 387.0 L485.5 387.8 L486.0 388.6 L486.5 389.3 L487.0 390.0 L487.5 390.6 L488.0 391.2 L488.5 391.7 L489.0 392.2 L489.5 392.6 L490.0 393.0 L490.5 393.4 L491.0 393.7 L491.5 393.9 L492.0 394.1 L492.5 394.3 L493.0 394.4 L493.5 394.6 L494.0 394.7 L494.5 394.8 L495.0 394.9 L495.5 395.0 L496.0 395.0 L496.5 395.0 L497.0 395.0 L497.5 395.0 L498.0 395.0 L498.5 395.0 L499.0 395.0 L499.5 395.0 L500.0 395.0 L500.5 395.0 L501.0 395.0 L501.5 395.0 L502.0 395.0 L502.5 395.0 L503.0 395.0 L503.5 395.0 L504.0 394.9 L504.5 394.9 L505.0 394.9 L505.5 394.9 L506.0 394.9 L506.5 394.9 L507.0 394.9 L507.5 394.9 L508.0 394.9 L508.5 394.9 L509.0 394.9 L509.5 395.0 L510.0 395.0 L510.5 395.0 L511.0 395.1 L511.5 395.1 L512.0 395.1 L512.5 395.2 L513.0 395.2 L513.5 395.3 L514.0 395.4 L514.5 395.5 L515.0 395.6 L515.5 395.7 L516.0 395.7 L516.5 395.8 L517.0 395.9 L517.5 396.0 L518.0 396.1 L518.5 396.2 L519.0 396.3 L519.5 396.4 L520.0 396.5 L520.5 396.5 L521.0 396.6 L521.5 396.7 L522.0 396.8 L522.5 396.9 L523.0 397.0 L523.5 397.0 L524.0 397.1 L524.5 397.2 L525.0 397.3 L525.5 397.3 L526.0 397.4 L526.5 397.4 L527.0 397.5 L527.5 397.5 L528.0 397.6 L528.5 397.6 L529.0 397.7 L529.5 397.7 L530.0 397.8 L530.5 397.8 L531.0 397.8 L531.5 397.9 L532.0 397.9 L532.5 397.9 L533.0 398.0 L533.5 398.0 L534.0 398.0 L534.0 398.1 Z"/>
<path class="b" d="M401.4 398.1 L401.4 397.6 L401.9 397.6 L402.4 397.6 L402.9 397.5 L403.4 397.5 L403.9 397.3 L404.4 397.2 L404.9 397.1 L405.4 396.9 L405.9 396.7 L406.4 396.6 L406.9 396.4 L407.4 396.1 L407.9 395.8 L408.4 395.4 L408.9 394.9 L409.4 394.5 L409.9 393.9 L410.4 393.4 L410.9 392.8 L411.4 392.0 L411.9 391.1 L412.4 390.0 L412.9 389.0 L413.4 387.9 L413.9 386.8 L414.4 385.5 L414.9 384.0 L415.4 382.3 L415.9 380.3 L416.4 378.1 L416.9 375.9 L417.4 373.6 L417.9 371.3 L418.4 368.9 L418.9 366.4 L419.4 363.9 L419.9 361.3 L420.4 358.7 L420.9 356.1 L421.4 353.2 L421.9 350.3 L422.4 347.6 L422.9 345.2 L423.4 343.1 L423.9 340.9 L424.4 338.5 L424.9 335.7 L425.4 332.8 L425.9 329.8 L426.4 326.9 L426.9 324.2 L427.4 321.4 L427.9 318.7 L428.4 316.2 L428.9 313.7 L429.4 311.3 L429.9 309.1 L430.4 306.9 L430.9 304.9 L431.4 302.9 L431.9 301.2 L432.4 299.6 L432.9 298.0 L433.4 296.6 L433.9 295.5 L434.4 294.5 L434.9 293.6 L435.4 292.8 L435.9 292.1 L436.4 291.6 L436.9 291.2 L437.4 290.8 L437.9 290.5 L438.4 290.3 L438.9 290.2 L439.4 290.2 L439.9 290.4 L440.4 290.7 L440.9 291.0 L441.4 291.4 L441.9 291.9 L442.4 292.6 L442.9 293.5 L443.4 294.6 L443.9 295.7 L444.4 296.8 L444.9 298.1 L445.4 299.5 L445.9 301.0 L446.4 302.6 L446.9 304.3 L447.4 306.1 L447.9 308.0 L448.4 310.1 L448.9 312.1 L449.4 314.2 L449.9 316.2 L450.4 318.3 L450.9 320.4 L451.4 322.4 L451.9 324.5 L452.4 326.5 L452.9 328.6 L453.4 330.7 L453.9 332.7 L454.4 334.6 L454.9 336.3 L455.4 338.0 L455.9 339.5 L456.4 341.0 L456.9 342.3 L457.4 343.6 L457.9 344.8 L458.4 346.2 L458.9 347.6 L459.4 349.1 L459.9 350.6 L460.4 351.9 L460.9 353.2 L461.4 354.5 L461.9 355.7 L462.4 356.7 L462.9 357.5 L463.4 358.3 L463.9 359.0 L464.4 359.7 L464.9 360.2 L465.4 360.7 L465.9 361.1 L466.4 361.3 L466.9 361.5 L467.4 361.6 L467.9 361.8 L468.4 361.9 L468.9 362.1 L469.4 362.3 L469.9 362.4 L470.4 362.6 L470.9 362.8 L471.4 363.0 L471.9 363.2 L472.4 363.4 L472.9 363.6 L473.4 363.9 L473.9 364.4 L474.4 364.9 L474.9 365.4 L475.4 366.0 L475.9 366.7 L476.4 367.5 L476.9 368.4 L477.4 369.3 L477.9 370.2 L478.4 371.2 L478.9 372.1 L479.4 373.1 L479.9 374.1 L480.4 375.1 L480.9 376.1 L481.4 377.1 L481.9 378.1 L482.4 379.1 L482.9 380.1 L483.4 381.1 L483.9 382.1 L484.4 383.0 L484.9 384.0 L485.4 384.8 L485.9 385.6 L486.4 386.3 L486.9 387.0 L487.4 387.6 L487.9 388.2 L488.4 388.8 L488.9 389.2 L489.4 389.7 L489.9 390.1 L490.4 390.5 L490.9 390.8 L491.4 391.2 L491.9 391.4 L492.4 391.6 L492.9 391.7 L493.4 391.9 L493.9 392.0 L494.4 392.1 L494.9 392.2 L495.4 392.3 L495.9 392.4 L496.4 392.4 L496.9 392.5 L497.4 392.5 L497.9 392.6 L498.4 392.6 L498.9 392.6 L499.4 392.7 L499.9 392.7 L500.4 392.8 L500.9 392.8 L501.4 392.9 L501.9 393.0 L502.4 393.0 L502.9 393.1 L503.4 393.2 L503.9 393.3 L504.4 393.4 L504.9 393.5 L505.4 393.5 L505.9 393.6 L506.4 393.7 L506.9 393.8 L507.4 393.8 L507.9 393.9 L508.4 393.9 L508.9 394.0 L509.4 394.0 L509.9 394.1 L510.4 394.1 L510.9 394.2 L511.4 394.3 L511.9 394.3 L512.4 394.4 L512.9 394.5 L513.4 394.6 L513.9 394.7 L514.4 394.8 L514.9 394.9 L515.4 395.0 L515.9 395.1 L516.4 395.2 L516.9 395.3 L517.4 395.4 L517.9 395.5 L518.4 395.6 L518.9 395.7 L519.4 395.8 L519.9 396.0 L520.4 396.1 L520.9 396.2 L521.4 396.3 L521.9 396.4 L522.4 396.5 L522.9 396.6 L523.4 396.7 L523.9 396.8 L524.4 396.9 L524.9 397.0 L525.4 397.1 L525.9 397.1 L526.4 397.2 L526.9 397.3 L527.4 397.4 L527.9 397.4 L528.4 397.5 L528.9 397.5 L529.4 397.6 L529.9 397.7 L530.4 397.7 L530.9 397.8 L531.4 397.8 L531.9 397.9 L532.4 397.9 L532.9 397.9 L533.4 398.0 L533.9 398.0 L534.0 398.0 L534.0 398.1 Z"/>
</g>
<rect x="393.8" y="285.5" width="150.7" height="112.6" fill="none" stroke="#8e8e8e" stroke-width="1.05"/>
<path d="M394.6 398.1 v-1.8 M423.4 398.1 v-1.8 M452.1 398.1 v-1.8 M480.8 398.1 v-1.8 M509.5 398.1 v-1.8 M538.2 398.1 v-1.8 M393.8 397.4 h1.8 M393.8 382.0 h1.8 M393.8 366.6 h1.8 M393.8 351.2 h1.8 M393.8 335.8 h1.8 M393.8 320.4 h1.8 M393.8 305.0 h1.8 M393.8 289.6 h1.8" stroke="#555" stroke-width="0.6" fill="none"/>
<text class="t" style="font-size:6.5px" transform="translate(394.6 405.0) scale(1 1.09)" text-anchor="middle">−5</text>
<text class="t" style="font-size:6.5px" transform="translate(423.4 405.0) scale(1 1.09)" text-anchor="middle">30</text>
<text class="t" style="font-size:6.5px" transform="translate(452.1 405.0) scale(1 1.09)" text-anchor="middle">65</text>
<text class="t" style="font-size:6.5px" transform="translate(480.8 405.0) scale(1 1.09)" text-anchor="middle">100</text>
<text class="t" style="font-size:6.5px" transform="translate(509.5 405.0) scale(1 1.09)" text-anchor="middle">135</text>
<text class="t" style="font-size:6.5px" transform="translate(538.2 405.0) scale(1 1.09)" text-anchor="middle">170</text>
<text class="t" style="font-size:6.5px" transform="translate(392.0 399.8) scale(1 1.09)" text-anchor="end">0.000</text>
<text class="t" style="font-size:6.5px" transform="translate(392.0 384.4) scale(1 1.09)" text-anchor="end">0.002</text>
<text class="t" style="font-size:6.5px" transform="translate(392.0 369.0) scale(1 1.09)" text-anchor="end">0.004</text>
<text class="t" style="font-size:6.5px" transform="translate(392.0 353.6) scale(1 1.09)" text-anchor="end">0.006</text>
<text class="t" style="font-size:6.5px" transform="translate(392.0 338.2) scale(1 1.09)" text-anchor="end">0.008</text>
<text class="t" style="font-size:6.5px" transform="translate(392.0 322.8) scale(1 1.09)" text-anchor="end">0.010</text>
<text class="t" style="font-size:6.5px" transform="translate(392.0 307.4) scale(1 1.09)" text-anchor="end">0.012</text>
<text class="t" style="font-size:6.5px" transform="translate(392.0 292.0) scale(1 1.09)" text-anchor="end">0.014</text>
<text class="l" style="font-size:7.73px" transform="translate(470.2 414.8) scale(1 1.09)" text-anchor="middle">Explosion Crater Size(cm)</text>
<text class="l" transform="translate(370.3 342.1) rotate(-90)" text-anchor="middle">Density</text>
<rect x="491.6" y="288.2" width="49.6" height="21.0" rx="1.5" fill="rgba(255,255,255,0.8)" stroke="#d9d9d9" stroke-width="0.7"/>
<rect class="r" x="494.4" y="292.0" width="11.9" height="4.3"/>
<text class="g" transform="translate(508.8 296.6) scale(1 1.09)">Train set</text>
<rect class="b" x="494.4" y="301.1" width="11.9" height="4.3"/>
<text class="g" transform="translate(508.8 305.6) scale(1 1.09)">Test set</text>
</g>
</svg></body></html>
